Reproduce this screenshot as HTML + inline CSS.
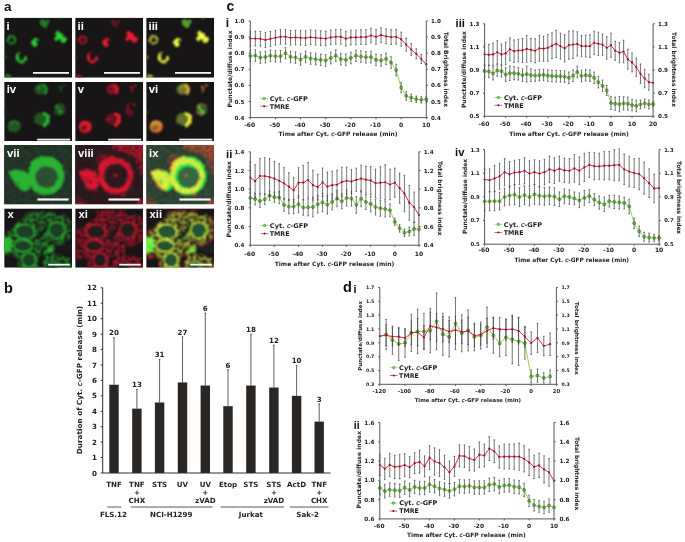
<!DOCTYPE html>
<html lang="en"><head><meta charset="utf-8"><title>Figure</title>
<style>html,body{margin:0;padding:0;background:#fff}body{width:685px;height:542px;overflow:hidden}svg{display:block}</style></head><body>
<svg width="685" height="542" viewBox="0 0 685 542">
<rect width="685" height="542" fill="#fff"/>
<defs>
<clipPath id="pc0"><rect x="0" y="0" width="67.8" height="60.0"/></clipPath>
<clipPath id="pc1"><rect x="0" y="0" width="67.8" height="59.1"/></clipPath>
<clipPath id="pc2"><rect x="0" y="0" width="67.8" height="59.3"/></clipPath>
<clipPath id="pc3"><rect x="0" y="0" width="67.8" height="59.3"/></clipPath>
<filter id="bl" x="-10%" y="-10%" width="120%" height="120%"><feTurbulence type="fractalNoise" baseFrequency="0.28" numOctaves="2" seed="7" result="n"/><feDisplacementMap in="SourceGraphic" in2="n" scale="3" xChannelSelector="R" yChannelSelector="G"/><feGaussianBlur stdDeviation="1"/></filter>
<filter id="bl4" x="-10%" y="-10%" width="120%" height="120%"><feTurbulence type="fractalNoise" baseFrequency="0.45" numOctaves="2" seed="3" result="n"/><feDisplacementMap in="SourceGraphic" in2="n" scale="3" xChannelSelector="R" yChannelSelector="G"/><feGaussianBlur stdDeviation="0.85"/></filter>
<filter id="mot2" x="0" y="0" width="100%" height="100%"><feTurbulence type="fractalNoise" baseFrequency="0.38" numOctaves="2" seed="23" result="n"/><feColorMatrix in="n" type="matrix" values="0 0 0 0 0 0 0 0 0 0 0 0 0 0 0 5 0 0 0 -1.95" result="a"/><feComposite in="SourceGraphic" in2="a" operator="in"/></filter>
<filter id="mot3" x="-5%" y="-5%" width="110%" height="110%"><feTurbulence type="fractalNoise" baseFrequency="0.45" numOctaves="2" seed="31" result="n"/><feColorMatrix in="n" type="matrix" values="0 0 0 0 0 0 0 0 0 0 0 0 0 0 0 3.0 0 0 0 -0.45" result="a"/><feComposite in="SourceGraphic" in2="a" operator="in"/></filter>
<filter id="mot" x="0" y="0" width="100%" height="100%"><feTurbulence type="fractalNoise" baseFrequency="0.45" numOctaves="2" seed="11" result="n"/><feColorMatrix in="n" type="matrix" values="0 0 0 0 0 0 0 0 0 0 0 0 0 0 0 2.2 0 0 0 -0.55" result="a"/><feComposite in="SourceGraphic" in2="a" operator="in"/></filter>
<g id="m0g" filter="url(#bl)"><circle cx="7.4" cy="22.2" r="3.6" fill="none" stroke="#279a2c" stroke-width="2.1" opacity="1"/><path d="M13.6 36.6 C11.5 40 13.5 44.2 17.5 44.2 C20.5 44.2 21.8 41.8 21.2 39.4" fill="none" stroke="#2cd034" stroke-width="2.5" stroke-linecap="round" stroke-linejoin="round" opacity="1"/><path d="M13.6 36.6 L16.5 34.6" fill="none" stroke="#247f29" stroke-width="1.2" stroke-linecap="round" stroke-linejoin="round" opacity="1"/><path d="M28 22 L31.5 19.5 L33 22 L31.5 24 L33.5 26 L32 29.5 L29 28.5 L27.2 25 Z" fill="#2cd034" opacity="1"/><path d="M33 20.5 L34.5 23.5" fill="none" stroke="#279a2c" stroke-width="1.2" stroke-linecap="round" stroke-linejoin="round" opacity="1"/><path d="M35.5 3.5 L38.5 0.8 L41 3 L44 1 L45 5 L42.8 6.8 L43.5 10 L39.5 10 L38 7.5 L35.8 6.5 Z" fill="#247928" opacity="1"/><path d="M51 14 L54 12.8 L55.8 15.6 L58.5 15 L59 18.6 L62 19.8 L61.4 24.6 L57.5 25.2 L55.5 22.6 L51.8 23.8 L49.8 20.8 L52.2 18 Z" fill="#2cd034" opacity="1"/><ellipse cx="0.8" cy="39.5" rx="1.2" ry="2.4" fill="#226425" opacity="1"/><ellipse cx="4" cy="58.6" rx="3" ry="1.6" fill="#279a2c" opacity="1"/><ellipse cx="56.8" cy="-0.2" rx="2.5" ry="1" fill="#247628" opacity="1"/></g>
<g id="m0r" filter="url(#bl)"><circle cx="7.4" cy="22.2" r="3.6" fill="none" stroke="#b8172c" stroke-width="2.1" opacity="1"/><ellipse cx="7.4" cy="22.6" rx="1.6" ry="1.6" fill="#171515" opacity="1"/><path d="M13.6 36.6 C11.5 40 13.5 44.2 17.5 44.2 C20.5 44.2 21.8 41.8 21.2 39.4" fill="none" stroke="#ec1a32" stroke-width="2.5" stroke-linecap="round" stroke-linejoin="round" opacity="1"/><path d="M13.6 36.6 L16.5 34.6" fill="none" stroke="#8e1528" stroke-width="1.2" stroke-linecap="round" stroke-linejoin="round" opacity="1"/><path d="M28 22 L31.5 19.5 L33 22 L31.5 24 L33.5 26 L32 29.5 L29 28.5 L27.2 25 Z" fill="#ec1a32" opacity="1"/><path d="M33 20.5 L34.5 23.5" fill="none" stroke="#ad162b" stroke-width="1.2" stroke-linecap="round" stroke-linejoin="round" opacity="1"/><path d="M35.5 3.5 L38.5 0.8 L41 3 L44 1 L45 5 L42.8 6.8 L43.5 10 L39.5 10 L38 7.5 L35.8 6.5 Z" fill="#501221" opacity="1"/><path d="M51 14 L54 12.8 L55.8 15.6 L58.5 15 L59 18.6 L62 19.8 L61.4 24.6 L57.5 25.2 L55.5 22.6 L51.8 23.8 L49.8 20.8 L52.2 18 Z" fill="#ec1a32" opacity="1"/><ellipse cx="0.8" cy="39.5" rx="1.2" ry="2.4" fill="#6f1324" opacity="1"/><ellipse cx="4" cy="58.6" rx="3" ry="1.6" fill="#ad162b" opacity="1"/><ellipse cx="56.8" cy="-0.2" rx="2.5" ry="1" fill="#841427" opacity="1"/></g>
<g id="m1g" filter="url(#bl)"><ellipse cx="36.2" cy="7.2" rx="6" ry="5.6" fill="#205223" opacity="1"/><path d="M39 3 C43 4 43.5 9 40.5 11.5" fill="none" stroke="#26922b" stroke-width="2.4" stroke-linecap="round" stroke-linejoin="round" opacity="1"/><ellipse cx="35" cy="6" rx="2.2" ry="2.6" fill="#247f29" opacity="1"/><path d="M55 3.5 L57 7 L60.5 3 M57 7 L55.5 11" fill="none" stroke="#215c24" stroke-width="1.3" stroke-linecap="round" stroke-linejoin="round" opacity="1"/><ellipse cx="55.6" cy="27.5" rx="5.6" ry="6.2" fill="#204a22" transform="rotate(-20 55.6 27.5)" opacity="1"/><path d="M52 24 L57.5 31.5" fill="none" stroke="#279a2c" stroke-width="1.8" stroke-linecap="round" stroke-linejoin="round" opacity="1"/><ellipse cx="36.8" cy="37.2" rx="7" ry="6.6" fill="#205223" opacity="1"/><path d="M40 31.5 C45 33 45 41 40.5 43" fill="none" stroke="#2aba31" stroke-width="3.2" stroke-linecap="round" stroke-linejoin="round" opacity="1"/><ellipse cx="9.8" cy="44.6" rx="6.6" ry="6.2" fill="#215723" opacity="1"/><path d="M5.5 41.5 C8 38.5 13 39 14.5 42" fill="none" stroke="#247f29" stroke-width="2" stroke-linecap="round" stroke-linejoin="round" opacity="1"/><ellipse cx="0.5" cy="30" rx="1" ry="2" fill="#205223" opacity="1"/></g>
<g id="m1r" filter="url(#bl)"><ellipse cx="36.6" cy="7.2" rx="5.6" ry="5.4" fill="#841427" opacity="1"/><path d="M39.5 3.2 C43 4.5 43.2 9 40.5 11.2" fill="none" stroke="#e11930" stroke-width="2.6" stroke-linecap="round" stroke-linejoin="round" opacity="1"/><ellipse cx="35.6" cy="7.5" rx="1.8" ry="2" fill="#171515" opacity="0.6"/><path d="M55 3.5 L57 7 L60.5 3 M57 7 L55.5 11" fill="none" stroke="#b8172c" stroke-width="1.3" stroke-linecap="round" stroke-linejoin="round" opacity="1"/><path d="M51.5 25 C53 21 58 21.5 59.5 24 M52 24.5 L57 31.5 M51.5 27 C51.5 31 54 33 57 32.5" fill="none" stroke="#9c1629" stroke-width="1.5" stroke-linecap="round" stroke-linejoin="round" opacity="1"/><ellipse cx="36.8" cy="37.2" rx="6.6" ry="6.2" fill="#5a1222" opacity="1"/><path d="M40.5 31.8 C45 33.5 45 40.5 40.8 42.8" fill="none" stroke="#ec1a32" stroke-width="3.4" stroke-linecap="round" stroke-linejoin="round" opacity="1"/><path d="M31 38 C33 36 36 36.5 37 38.5" fill="none" stroke="#8e1528" stroke-width="1.4" stroke-linecap="round" stroke-linejoin="round" opacity="1"/><ellipse cx="10" cy="44.8" rx="6.6" ry="6.4" fill="#db1930" opacity="1"/><ellipse cx="9" cy="46" rx="2.8" ry="2.3" fill="#171515" opacity="0.75"/><ellipse cx="0.4" cy="39" rx="1" ry="2.4" fill="#6f1324" opacity="1"/></g>
<g id="m2g" filter="url(#bl4)"><rect x="-2" y="-2" width="72" height="64" fill="#1b211d"/><rect x="-2" y="-2" width="72" height="64" fill="#2a4230" filter="url(#mot)"/><path d="M5 27 L11 25 L20.6 26.6 L25.5 31 L27 40 L23.6 45 L20 46.2 L15.8 43.8 L11 37.8 L7.4 33 Z" fill="#29b330" opacity="1"/><path fill-rule="evenodd" d="M24.8 31.8 C24.6 25 25.8 20.5 27.8 17.4 C30.5 13.8 34 12.2 37.4 12 C42 11.6 47 12 50.6 13.8 C55.5 16.5 59 22 59.6 28.2 C60 31 59.8 34 59 36.6 C57.8 41 55.5 44 51.8 46.2 C49 48.4 45.6 49.6 42.2 49.8 C38.8 50 35.4 49 32.6 47.4 C29.8 45.8 27.8 43.4 26.6 40.2 C25.6 37.6 25 34.8 24.8 31.8 Z M31.4 32.6 C31.4 38.6 36.2 42.8 42.2 42.8 C48.4 42.8 53.2 38.2 53.2 32 C53.2 26 48.4 21.4 42.2 21.4 C36.2 21.4 31.4 26.4 31.4 32.6 Z" fill="#29b330"/><ellipse cx="42.3" cy="32.1" rx="10.9" ry="10.7" fill="#2a4f31" opacity="1"/><ellipse cx="14.5" cy="37" rx="1.3" ry="1.6" fill="#1f6a2c" opacity="0.8"/></g>
<g id="m2r" filter="url(#bl4)"><rect x="-2" y="-2" width="72" height="64" fill="#241a1c"/><rect x="-2" y="-2" width="72" height="64" fill="#321a20" filter="url(#mot)"/><g filter="url(#mot2)"><path d="M36 -2 L70 -2 L70 24 L64 18 L58 10 L47 6 L38 5 Z" fill="#cc182e" opacity="1"/><path d="M60 14 L70 12 L70 30 L65 26 Z" fill="#ad162b" opacity="1"/><path d="M-2 50 L6 54 L16 62 L-2 62 Z" fill="#981529" opacity="1"/><path d="M56 62 L70 52 L70 62 Z" fill="#c2172d" opacity="1"/><path d="M20 14 L28 8 L34 9 L30 14 L24 18 Z" fill="#791425" opacity="1"/></g><g filter="url(#mot3)"><path d="M4.5 27.5 L11 24.8 L19.5 26.5 L23.5 31.5 L24.5 38 L20.5 44 L15 45 L10.5 41 L7.5 34.5 Z" fill="#e11930" opacity="1"/><ellipse cx="40.6" cy="31" rx="14.6" ry="15.4" fill="none" stroke="#e71931" stroke-width="4.6"/><path d="M25 24 C26 17 32 13 38 13" fill="none" stroke="#e71931" stroke-width="3" stroke-linecap="round" stroke-linejoin="round" opacity="1"/></g><ellipse cx="15.5" cy="36" rx="1.5" ry="2.1" fill="#171515" opacity="0.6"/><ellipse cx="40" cy="30.5" rx="1.7" ry="1.7" fill="#a3162a" opacity="1"/><ellipse cx="47.5" cy="49.8" rx="2" ry="1" fill="#c2172d" opacity="1"/></g>
<g id="m3g" filter="url(#bl4)"><g filter="url(#mot2)"><path d="M20 4 L50 2.5 L52 8 L60 6 L67 12 L66 30 L58 36 L50 37 L49 44 L40 47 L34 48 L34 62 L14 62 L13 49 L-2 46 L-2 28 L8 20 L12 14 L18 12 Z" fill="#25882a" opacity="1"/><path d="M40 48 L52 44 L64 50 L70 56 L70 62 L38 62 Z" fill="#25882a" opacity="1"/></g><path d="M-2 29 L6 28 L8.5 34 L7.5 43 L-2 45 Z" fill="#29b530" opacity="1"/><path d="M30 30 L36 24 L44 15 L46 17 L40 27 L34 33 Z" fill="#171515" opacity="0.9"/><path d="M50 38 L60 37 L70 33 L70 46 L56 44 Z" fill="#171515" opacity="0.85"/><path d="M44 38 L50 40 L47 45 L42 43 Z" fill="#28ac2f" opacity="1"/><ellipse cx="20.6" cy="23.4" rx="10.0" ry="7.6" fill="#1d3f26" stroke="#2bcc33" stroke-width="1.1" stroke-opacity="1.0" transform="rotate(8 20.6 23.4)"/><ellipse cx="52.6" cy="22.1" rx="8.4" ry="8.2" fill="#1d3f26" stroke="#2bcc33" stroke-width="1.1" stroke-opacity="0.9" transform="rotate(0 52.6 22.1)"/><ellipse cx="18.8" cy="37.4" rx="9.2" ry="6.1" fill="#1d3f26" stroke="#2bcc33" stroke-width="1.1" stroke-opacity="0.9" transform="rotate(0 18.8 37.4)"/><ellipse cx="24.8" cy="51.8" rx="7.2" ry="7.5" fill="#1d3f26" stroke="#2bcc33" stroke-width="1.1" stroke-opacity="1.0" transform="rotate(0 24.8 51.8)"/><ellipse cx="47.5" cy="57.5" rx="7.5" ry="4.6" fill="#1d3f26" stroke="#2bcc33" stroke-width="1.1" stroke-opacity="0.6" transform="rotate(0 47.5 57.5)"/></g>
<g id="m3r" filter="url(#bl4)"><g filter="url(#mot2)"><path d="M22 2 L50 1 L52 8 L60 6 L70 10 L70 32 L58 37 L50 38 L49 45 L40 48 L34 49 L34 62 L12 62 L12 50 L-2 50 L-2 22 L8 19 L12 14 L18 10 Z" fill="#a5162a" opacity="1"/><path d="M38 50 L52 45 L64 50 L70 54 L70 62 L36 62 Z" fill="#ad162b" opacity="1"/></g><path d="M30 30 L36 24 L44 13 L47 15 L41 27 L35 34 Z" fill="#171515" opacity="0.9"/><path d="M52 39 L60 38 L70 36 L70 47 L56 45 Z" fill="#171515" opacity="0.7"/><ellipse cx="20.6" cy="23.4" rx="10.0" ry="7.6" fill="#211a1b" stroke="#e71931" stroke-width="1.1" stroke-opacity="1.0" transform="rotate(8 20.6 23.4)"/><ellipse cx="52.6" cy="22.1" rx="8.4" ry="8.2" fill="#211a1b" stroke="#e71931" stroke-width="1.1" stroke-opacity="0.9" transform="rotate(0 52.6 22.1)"/><ellipse cx="18.8" cy="37.4" rx="9.2" ry="6.1" fill="#211a1b" stroke="#e71931" stroke-width="1.1" stroke-opacity="0.9" transform="rotate(0 18.8 37.4)"/><ellipse cx="24.8" cy="51.8" rx="7.2" ry="7.5" fill="#211a1b" stroke="#e71931" stroke-width="1.1" stroke-opacity="1.0" transform="rotate(0 24.8 51.8)"/><ellipse cx="47.5" cy="57.5" rx="7.5" ry="4.6" fill="#211a1b" stroke="#e71931" stroke-width="1.1" stroke-opacity="0.6" transform="rotate(0 47.5 57.5)"/></g>
</defs>
<g transform="translate(4.2 17.7)" clip-path="url(#pc0)" style="isolation:isolate">
<rect x="0" y="0" width="67.8" height="60.0" fill="#171515"/>
<use href="#m0g"/>
<rect x="28.8" y="54.3" width="36" height="1.8" fill="#f4f4f4"/>
<text x="2.3" y="12.2" font-family="'Liberation Sans',sans-serif" font-weight="bold" font-size="11.3" fill="#fff">i</text>
</g>
<g transform="translate(75.2 17.7)" clip-path="url(#pc0)" style="isolation:isolate">
<rect x="0" y="0" width="67.8" height="60.0" fill="#171515"/>
<use href="#m0r"/>
<rect x="28.8" y="54.3" width="36" height="1.8" fill="#f4f4f4"/>
<text x="2.3" y="12.2" font-family="'Liberation Sans',sans-serif" font-weight="bold" font-size="11.3" fill="#fff">ii</text>
</g>
<g transform="translate(146.2 17.7)" clip-path="url(#pc0)" style="isolation:isolate">
<rect x="0" y="0" width="67.8" height="60.0" fill="#171515"/>
<use href="#m0g" style="filter:brightness(1.32)"/>
<use href="#m0r" style="mix-blend-mode:lighten"/>
<rect x="28.8" y="54.3" width="36" height="1.8" fill="#f4f4f4"/>
<text x="2.3" y="12.2" font-family="'Liberation Sans',sans-serif" font-weight="bold" font-size="11.3" fill="#fff">iii</text>
</g>
<g transform="translate(4.2 82.0)" clip-path="url(#pc1)" style="isolation:isolate">
<rect x="0" y="0" width="67.8" height="59.1" fill="#171515"/>
<use href="#m1g"/>
<rect x="33.0" y="56.7" width="33" height="1.8" fill="#f4f4f4"/>
<text x="2.5" y="11.2" font-family="'Liberation Sans',sans-serif" font-weight="bold" font-size="11.3" fill="#fff">iv</text>
</g>
<g transform="translate(75.2 82.0)" clip-path="url(#pc1)" style="isolation:isolate">
<rect x="0" y="0" width="67.8" height="59.1" fill="#171515"/>
<use href="#m1r"/>
<rect x="33.0" y="56.7" width="33" height="1.8" fill="#f4f4f4"/>
<text x="2.5" y="11.2" font-family="'Liberation Sans',sans-serif" font-weight="bold" font-size="11.3" fill="#fff">v</text>
</g>
<g transform="translate(146.2 82.0)" clip-path="url(#pc1)" style="isolation:isolate">
<rect x="0" y="0" width="67.8" height="59.1" fill="#171515"/>
<use href="#m1g" style="filter:brightness(1.32)"/>
<use href="#m1r" style="mix-blend-mode:lighten"/>
<rect x="33.0" y="56.7" width="33" height="1.8" fill="#f4f4f4"/>
<text x="2.5" y="11.2" font-family="'Liberation Sans',sans-serif" font-weight="bold" font-size="11.3" fill="#fff">vi</text>
</g>
<g transform="translate(4.2 145.0)" clip-path="url(#pc2)" style="isolation:isolate">
<rect x="0" y="0" width="67.8" height="59.3" fill="#171515"/>
<use href="#m2g"/>
<rect x="33.2" y="53.4" width="31.2" height="2.2" fill="#f4f4f4"/>
<text x="2.8" y="11.5" font-family="'Liberation Sans',sans-serif" font-weight="bold" font-size="11.3" fill="#fff">vii</text>
</g>
<g transform="translate(75.2 145.0)" clip-path="url(#pc2)" style="isolation:isolate">
<rect x="0" y="0" width="67.8" height="59.3" fill="#171515"/>
<use href="#m2r"/>
<rect x="33.2" y="53.4" width="31.2" height="2.2" fill="#f4f4f4"/>
<text x="2.8" y="11.5" font-family="'Liberation Sans',sans-serif" font-weight="bold" font-size="11.3" fill="#fff">viii</text>
</g>
<g transform="translate(146.2 145.0)" clip-path="url(#pc2)" style="isolation:isolate">
<rect x="0" y="0" width="67.8" height="59.3" fill="#171515"/>
<use href="#m2g" style="filter:brightness(1.32)"/>
<use href="#m2r" style="mix-blend-mode:lighten"/>
<rect x="33.2" y="53.4" width="31.2" height="2.2" fill="#f4f4f4"/>
<text x="2.8" y="11.5" font-family="'Liberation Sans',sans-serif" font-weight="bold" font-size="11.3" fill="#fff">ix</text>
</g>
<g transform="translate(4.2 208.4)" clip-path="url(#pc3)" style="isolation:isolate">
<rect x="0" y="0" width="67.8" height="59.3" fill="#171515"/>
<use href="#m3g"/>
<rect x="44.0" y="55.4" width="21.6" height="1.8" fill="#f4f4f4"/>
<text x="3.3" y="9.5" font-family="'Liberation Sans',sans-serif" font-weight="bold" font-size="11.3" fill="#fff">x</text>
</g>
<g transform="translate(75.2 208.4)" clip-path="url(#pc3)" style="isolation:isolate">
<rect x="0" y="0" width="67.8" height="59.3" fill="#171515"/>
<use href="#m3r"/>
<rect x="44.0" y="55.4" width="21.6" height="1.8" fill="#f4f4f4"/>
<text x="3.3" y="9.5" font-family="'Liberation Sans',sans-serif" font-weight="bold" font-size="11.3" fill="#fff">xi</text>
</g>
<g transform="translate(146.2 208.4)" clip-path="url(#pc3)" style="isolation:isolate">
<rect x="0" y="0" width="67.8" height="59.3" fill="#171515"/>
<use href="#m3g" style="filter:brightness(1.32)"/>
<use href="#m3r" style="mix-blend-mode:lighten"/>
<rect x="44.0" y="55.4" width="21.6" height="1.8" fill="#f4f4f4"/>
<text x="3.3" y="9.5" font-family="'Liberation Sans',sans-serif" font-weight="bold" font-size="11.3" fill="#fff">xii</text>
</g>
<path d="M114 384.74V337.68M113.2 337.68h1.6M136.9 408.66V389.37M136.1 389.37h1.6M159.6 402.48V359.28M158.8 359.28h1.6M182.5 382.43V336.75M181.7 336.75h1.6M205.3 385.51V313.15M204.5 313.15h1.6M228 406.19V369.77M227.2 369.77h1.6M250.9 385.51V334.13M250.1 334.13h1.6M273.9 387.52V345.24M273.1 345.24h1.6M296.6 395.85V365.3M295.8 365.3h1.6M319.2 421.62V403.87M318.4 403.87h1.6" stroke="#2b2b2b" stroke-width="0.75" fill="none"/>
<rect x="109.3" y="384.74" width="9.4" height="88.26" fill="#2a2624"/>
<rect x="132.2" y="408.66" width="9.4" height="64.34" fill="#2a2624"/>
<rect x="154.9" y="402.48" width="9.4" height="70.52" fill="#2a2624"/>
<rect x="177.8" y="382.43" width="9.4" height="90.57" fill="#2a2624"/>
<rect x="200.6" y="385.51" width="9.4" height="87.49" fill="#2a2624"/>
<rect x="223.3" y="406.19" width="9.4" height="66.81" fill="#2a2624"/>
<rect x="246.2" y="385.51" width="9.4" height="87.49" fill="#2a2624"/>
<rect x="269.2" y="387.52" width="9.4" height="85.48" fill="#2a2624"/>
<rect x="291.9" y="395.85" width="9.4" height="77.15" fill="#2a2624"/>
<rect x="314.5" y="421.62" width="9.4" height="51.38" fill="#2a2624"/>
<path d="M102.7 287.84V473H330.5M102.7 473h-2M102.7 457.57h-2M102.7 442.14h-2M102.7 426.71h-2M102.7 411.28h-2M102.7 395.85h-2M102.7 380.42h-2M102.7 364.99h-2M102.7 349.56h-2M102.7 334.13h-2M102.7 318.7h-2M102.7 303.27h-2M102.7 287.84h-2" stroke="#2e2e2e" stroke-width="1" fill="none"/>
<g font-family="'DejaVu Sans','Liberation Sans',sans-serif" font-weight="bold" font-size="7.1" fill="#222">
<text x="96.9" y="475.56" text-anchor="end">0</text>
<text x="96.9" y="460.13" text-anchor="end">1</text>
<text x="96.9" y="444.7" text-anchor="end">2</text>
<text x="96.9" y="429.27" text-anchor="end">3</text>
<text x="96.9" y="413.84" text-anchor="end">4</text>
<text x="96.9" y="398.41" text-anchor="end">5</text>
<text x="96.9" y="382.98" text-anchor="end">6</text>
<text x="96.9" y="367.55" text-anchor="end">7</text>
<text x="96.9" y="352.12" text-anchor="end">8</text>
<text x="96.9" y="336.69" text-anchor="end">9</text>
<text x="96.9" y="321.26" text-anchor="end">10</text>
<text x="96.9" y="305.83" text-anchor="end">11</text>
<text x="96.9" y="290.4" text-anchor="end">12</text>
<text x="114" y="335.48" text-anchor="middle">20</text>
<text x="136.9" y="387.17" text-anchor="middle">13</text>
<text x="159.6" y="357.08" text-anchor="middle">31</text>
<text x="182.5" y="334.55" text-anchor="middle">27</text>
<text x="205.3" y="310.95" text-anchor="middle">6</text>
<text x="228" y="367.57" text-anchor="middle">6</text>
<text x="250.9" y="331.93" text-anchor="middle">18</text>
<text x="273.9" y="343.04" text-anchor="middle">12</text>
<text x="296.6" y="363.1" text-anchor="middle">10</text>
<text x="319.2" y="401.67" text-anchor="middle">3</text>
<text x="114" y="486.96" text-anchor="middle">TNF</text>
<text x="136.9" y="486.96" text-anchor="middle">TNF</text>
<text x="136.9" y="494.76" text-anchor="middle">+</text>
<text x="136.9" y="503.26" text-anchor="middle">CHX</text>
<text x="159.6" y="486.96" text-anchor="middle">STS</text>
<text x="182.5" y="486.96" text-anchor="middle">UV</text>
<text x="205.3" y="486.96" text-anchor="middle">UV</text>
<text x="205.3" y="494.76" text-anchor="middle">+</text>
<text x="205.3" y="503.26" text-anchor="middle">zVAD</text>
<text x="228" y="486.96" text-anchor="middle">Etop</text>
<text x="250.9" y="486.96" text-anchor="middle">STS</text>
<text x="273.9" y="486.96" text-anchor="middle">STS</text>
<text x="273.9" y="494.76" text-anchor="middle">+</text>
<text x="273.9" y="503.26" text-anchor="middle">zVAD</text>
<text x="296.6" y="486.96" text-anchor="middle">ActD</text>
<text x="319.2" y="486.96" text-anchor="middle">TNF</text>
<text x="319.2" y="494.76" text-anchor="middle">+</text>
<text x="319.2" y="503.26" text-anchor="middle">CHX</text>
<text x="113.4" y="516.96" text-anchor="middle">FLS.12</text>
<text x="171.2" y="516.96" text-anchor="middle">NCI-H1299</text>
<text x="250.8" y="516.96" text-anchor="middle">Jurkat</text>
<text x="307.6" y="516.96" text-anchor="middle">Sak-2</text>
<text transform="translate(81.76 454.3) rotate(-90)" textLength="148.5" lengthAdjust="spacingAndGlyphs">Duration of Cyt. <tspan font-style="italic" font-weight="normal" stroke="#222" stroke-width="0.22">c</tspan>-GFP release (min)</text>
</g>
<path d="M107.3 507h14M130.9 507h81.6M220.7 507h63.2M289.9 507h38.6" stroke="#3a3a3a" stroke-width="0.85" fill="none"/>
<g>
<polyline points="250.3,56.1 255.33,55.61 260.36,57.55 265.39,57.06 270.41,55.78 275.44,56.26 280.47,56.26 285.5,53.2 290.53,56.9 295.56,57.55 300.59,59.48 305.61,56.9 310.64,58.51 315.67,59.16 320.7,59.8 325.73,60.45 330.76,58.03 335.79,55.61 340.81,59.16 345.84,59.8 350.87,58.03 355.9,55.78 360.93,56.58 365.96,57.22 370.99,57.06 376.01,59.8 381.04,60.45 386.07,58.83 391.1,62.54 396.13,70.11 401.16,87.65 406.19,95.86 411.21,97.8 416.24,99.25 421.27,99.89 426.3,99.25" fill="none" stroke="#8fd455" stroke-width="1"/>
<circle cx="250.3" cy="56.1" r="1.45" fill="#93d35f" stroke="#4e9a2e" stroke-width="0.9"/>
<circle cx="255.33" cy="55.61" r="1.45" fill="#93d35f" stroke="#4e9a2e" stroke-width="0.9"/>
<circle cx="260.36" cy="57.55" r="1.45" fill="#93d35f" stroke="#4e9a2e" stroke-width="0.9"/>
<circle cx="265.39" cy="57.06" r="1.45" fill="#93d35f" stroke="#4e9a2e" stroke-width="0.9"/>
<circle cx="270.41" cy="55.78" r="1.45" fill="#93d35f" stroke="#4e9a2e" stroke-width="0.9"/>
<circle cx="275.44" cy="56.26" r="1.45" fill="#93d35f" stroke="#4e9a2e" stroke-width="0.9"/>
<circle cx="280.47" cy="56.26" r="1.45" fill="#93d35f" stroke="#4e9a2e" stroke-width="0.9"/>
<circle cx="285.5" cy="53.2" r="1.45" fill="#93d35f" stroke="#4e9a2e" stroke-width="0.9"/>
<circle cx="290.53" cy="56.9" r="1.45" fill="#93d35f" stroke="#4e9a2e" stroke-width="0.9"/>
<circle cx="295.56" cy="57.55" r="1.45" fill="#93d35f" stroke="#4e9a2e" stroke-width="0.9"/>
<circle cx="300.59" cy="59.48" r="1.45" fill="#93d35f" stroke="#4e9a2e" stroke-width="0.9"/>
<circle cx="305.61" cy="56.9" r="1.45" fill="#93d35f" stroke="#4e9a2e" stroke-width="0.9"/>
<circle cx="310.64" cy="58.51" r="1.45" fill="#93d35f" stroke="#4e9a2e" stroke-width="0.9"/>
<circle cx="315.67" cy="59.16" r="1.45" fill="#93d35f" stroke="#4e9a2e" stroke-width="0.9"/>
<circle cx="320.7" cy="59.8" r="1.45" fill="#93d35f" stroke="#4e9a2e" stroke-width="0.9"/>
<circle cx="325.73" cy="60.45" r="1.45" fill="#93d35f" stroke="#4e9a2e" stroke-width="0.9"/>
<circle cx="330.76" cy="58.03" r="1.45" fill="#93d35f" stroke="#4e9a2e" stroke-width="0.9"/>
<circle cx="335.79" cy="55.61" r="1.45" fill="#93d35f" stroke="#4e9a2e" stroke-width="0.9"/>
<circle cx="340.81" cy="59.16" r="1.45" fill="#93d35f" stroke="#4e9a2e" stroke-width="0.9"/>
<circle cx="345.84" cy="59.8" r="1.45" fill="#93d35f" stroke="#4e9a2e" stroke-width="0.9"/>
<circle cx="350.87" cy="58.03" r="1.45" fill="#93d35f" stroke="#4e9a2e" stroke-width="0.9"/>
<circle cx="355.9" cy="55.78" r="1.45" fill="#93d35f" stroke="#4e9a2e" stroke-width="0.9"/>
<circle cx="360.93" cy="56.58" r="1.45" fill="#93d35f" stroke="#4e9a2e" stroke-width="0.9"/>
<circle cx="365.96" cy="57.22" r="1.45" fill="#93d35f" stroke="#4e9a2e" stroke-width="0.9"/>
<circle cx="370.99" cy="57.06" r="1.45" fill="#93d35f" stroke="#4e9a2e" stroke-width="0.9"/>
<circle cx="376.01" cy="59.8" r="1.45" fill="#93d35f" stroke="#4e9a2e" stroke-width="0.9"/>
<circle cx="381.04" cy="60.45" r="1.45" fill="#93d35f" stroke="#4e9a2e" stroke-width="0.9"/>
<circle cx="386.07" cy="58.83" r="1.45" fill="#93d35f" stroke="#4e9a2e" stroke-width="0.9"/>
<circle cx="391.1" cy="62.54" r="1.45" fill="#93d35f" stroke="#4e9a2e" stroke-width="0.9"/>
<circle cx="396.13" cy="70.11" r="1.45" fill="#93d35f" stroke="#4e9a2e" stroke-width="0.9"/>
<circle cx="401.16" cy="87.65" r="1.45" fill="#93d35f" stroke="#4e9a2e" stroke-width="0.9"/>
<circle cx="406.19" cy="95.86" r="1.45" fill="#93d35f" stroke="#4e9a2e" stroke-width="0.9"/>
<circle cx="411.21" cy="97.8" r="1.45" fill="#93d35f" stroke="#4e9a2e" stroke-width="0.9"/>
<circle cx="416.24" cy="99.25" r="1.45" fill="#93d35f" stroke="#4e9a2e" stroke-width="0.9"/>
<circle cx="421.27" cy="99.89" r="1.45" fill="#93d35f" stroke="#4e9a2e" stroke-width="0.9"/>
<circle cx="426.3" cy="99.25" r="1.45" fill="#93d35f" stroke="#4e9a2e" stroke-width="0.9"/>
<path d="M250.3 50.3V61.89M249.5 50.3h1.6M249.5 61.89h1.6M255.33 49.82V61.41M254.53 49.82h1.6M254.53 61.41h1.6M260.36 51.75V63.34M259.56 51.75h1.6M259.56 63.34h1.6M265.39 51.27V62.86M264.59 51.27h1.6M264.59 62.86h1.6M270.41 49.98V61.57M269.61 49.98h1.6M269.61 61.57h1.6M275.44 50.46V62.05M274.64 50.46h1.6M274.64 62.05h1.6M280.47 50.46V62.05M279.67 50.46h1.6M279.67 62.05h1.6M285.5 47.4V59M284.7 47.4h1.6M284.7 59h1.6M290.53 51.11V62.7M289.73 51.11h1.6M289.73 62.7h1.6M295.56 51.75V63.34M294.76 51.75h1.6M294.76 63.34h1.6M300.59 53.68V65.28M299.79 53.68h1.6M299.79 65.28h1.6M305.61 51.11V62.7M304.81 51.11h1.6M304.81 62.7h1.6M310.64 52.72V64.31M309.84 52.72h1.6M309.84 64.31h1.6M315.67 53.36V64.95M314.87 53.36h1.6M314.87 64.95h1.6M320.7 54V65.6M319.9 54h1.6M319.9 65.6h1.6M325.73 54.65V66.24M324.93 54.65h1.6M324.93 66.24h1.6M330.76 52.23V63.83M329.96 52.23h1.6M329.96 63.83h1.6M335.79 49.82V61.41M334.99 49.82h1.6M334.99 61.41h1.6M340.81 53.36V64.95M340.01 53.36h1.6M340.01 64.95h1.6M345.84 54V65.6M345.04 54h1.6M345.04 65.6h1.6M350.87 52.23V63.83M350.07 52.23h1.6M350.07 63.83h1.6M355.9 49.98V61.57M355.1 49.98h1.6M355.1 61.57h1.6M360.93 50.78V62.38M360.13 50.78h1.6M360.13 62.38h1.6M365.96 51.43V63.02M365.16 51.43h1.6M365.16 63.02h1.6M370.99 51.27V62.86M370.19 51.27h1.6M370.19 62.86h1.6M376.01 54V65.6M375.21 54h1.6M375.21 65.6h1.6M381.04 54.65V66.24M380.24 54.65h1.6M380.24 66.24h1.6M386.07 53.04V64.63M385.27 53.04h1.6M385.27 64.63h1.6M391.1 56.74V68.33M390.3 56.74h1.6M390.3 68.33h1.6M396.13 64.31V75.9M395.33 64.31h1.6M395.33 75.9h1.6M401.16 82.5V92.81M400.36 82.5h1.6M400.36 92.81h1.6M406.19 91.52V100.21M405.39 91.52h1.6M405.39 100.21h1.6M411.21 94.09V101.5M410.41 94.09h1.6M410.41 101.5h1.6M416.24 96.03V102.47M415.44 96.03h1.6M415.44 102.47h1.6M421.27 96.67V103.11M420.47 96.67h1.6M420.47 103.11h1.6M426.3 96.35V102.14M425.5 96.35h1.6M425.5 102.14h1.6M250.3 31.3V46.12M249.5 31.3h1.6M249.5 46.12h1.6M255.33 31.14V45.96M254.53 31.14h1.6M254.53 45.96h1.6M260.36 31.46V46.28M259.56 31.46h1.6M259.56 46.28h1.6M265.39 32.59V47.4M264.59 32.59h1.6M264.59 47.4h1.6M270.41 31.46V46.28M269.61 31.46h1.6M269.61 46.28h1.6M275.44 30.34V45.15M274.64 30.34h1.6M274.64 45.15h1.6M280.47 29.37V44.18M279.67 29.37h1.6M279.67 44.18h1.6M285.5 29.37V44.18M284.7 29.37h1.6M284.7 44.18h1.6M290.53 30.34V45.15M289.73 30.34h1.6M289.73 45.15h1.6M295.56 30.02V44.83M294.76 30.02h1.6M294.76 44.83h1.6M300.59 30.34V45.15M299.79 30.34h1.6M299.79 45.15h1.6M305.61 30.66V45.47M304.81 30.66h1.6M304.81 45.47h1.6M310.64 29.85V44.67M309.84 29.85h1.6M309.84 44.67h1.6M315.67 30.34V45.15M314.87 30.34h1.6M314.87 45.15h1.6M320.7 30.82V45.63M319.9 30.82h1.6M319.9 45.63h1.6M325.73 31.14V45.96M324.93 31.14h1.6M324.93 45.96h1.6M330.76 30.02V44.83M329.96 30.02h1.6M329.96 44.83h1.6M335.79 29.37V44.18M334.99 29.37h1.6M334.99 44.18h1.6M340.81 29.37V44.18M340.01 29.37h1.6M340.01 44.18h1.6M345.84 31.3V46.12M345.04 31.3h1.6M345.04 46.12h1.6M350.87 30.02V44.83M350.07 30.02h1.6M350.07 44.83h1.6M355.9 30.02V44.83M355.1 30.02h1.6M355.1 44.83h1.6M360.93 29.69V44.51M360.13 29.69h1.6M360.13 44.51h1.6M365.96 29.69V44.51M365.16 29.69h1.6M365.16 44.51h1.6M370.99 28.08V42.9M370.19 28.08h1.6M370.19 42.9h1.6M376.01 29.37V44.18M375.21 29.37h1.6M375.21 44.18h1.6M381.04 27.76V42.57M380.24 27.76h1.6M380.24 42.57h1.6M386.07 28.89V43.7M385.27 28.89h1.6M385.27 43.7h1.6M391.1 29.69V44.51M390.3 29.69h1.6M390.3 44.51h1.6M396.13 29.37V44.18M395.33 29.37h1.6M395.33 44.18h1.6M401.16 32.11V46.28M400.36 32.11h1.6M400.36 46.28h1.6M406.19 38.23V51.11M405.39 38.23h1.6M405.39 51.11h1.6M411.21 43.54V55.45M410.41 43.54h1.6M410.41 55.45h1.6M416.24 48.85V58.83M415.44 48.85h1.6M415.44 58.83h1.6M421.27 54.49V63.5M420.47 54.49h1.6M420.47 63.5h1.6" stroke="#3c3c3c" stroke-width="0.8" fill="none" opacity="0.88"/>
<polyline points="250.3,38.71 255.33,38.55 260.36,38.87 265.39,40 270.41,38.87 275.44,37.74 280.47,36.78 285.5,36.78 290.53,37.74 295.56,37.42 300.59,37.74 305.61,38.07 310.64,37.26 315.67,37.74 320.7,38.23 325.73,38.55 330.76,37.42 335.79,36.78 340.81,36.78 345.84,38.71 350.87,37.42 355.9,37.42 360.93,37.1 365.96,37.1 370.99,35.49 376.01,36.78 381.04,35.17 386.07,36.3 391.1,37.1 396.13,36.78 401.16,39.19 406.19,44.67 411.21,49.5 416.24,53.84 421.27,59 426.3,64.47" fill="none" stroke="#cf1f3c" stroke-width="0.95"/>
<circle cx="250.3" cy="38.71" r="1.1" fill="#a30f2a"/>
<circle cx="255.33" cy="38.55" r="1.1" fill="#a30f2a"/>
<circle cx="260.36" cy="38.87" r="1.1" fill="#a30f2a"/>
<circle cx="265.39" cy="40" r="1.1" fill="#a30f2a"/>
<circle cx="270.41" cy="38.87" r="1.1" fill="#a30f2a"/>
<circle cx="275.44" cy="37.74" r="1.1" fill="#a30f2a"/>
<circle cx="280.47" cy="36.78" r="1.1" fill="#a30f2a"/>
<circle cx="285.5" cy="36.78" r="1.1" fill="#a30f2a"/>
<circle cx="290.53" cy="37.74" r="1.1" fill="#a30f2a"/>
<circle cx="295.56" cy="37.42" r="1.1" fill="#a30f2a"/>
<circle cx="300.59" cy="37.74" r="1.1" fill="#a30f2a"/>
<circle cx="305.61" cy="38.07" r="1.1" fill="#a30f2a"/>
<circle cx="310.64" cy="37.26" r="1.1" fill="#a30f2a"/>
<circle cx="315.67" cy="37.74" r="1.1" fill="#a30f2a"/>
<circle cx="320.7" cy="38.23" r="1.1" fill="#a30f2a"/>
<circle cx="325.73" cy="38.55" r="1.1" fill="#a30f2a"/>
<circle cx="330.76" cy="37.42" r="1.1" fill="#a30f2a"/>
<circle cx="335.79" cy="36.78" r="1.1" fill="#a30f2a"/>
<circle cx="340.81" cy="36.78" r="1.1" fill="#a30f2a"/>
<circle cx="345.84" cy="38.71" r="1.1" fill="#a30f2a"/>
<circle cx="350.87" cy="37.42" r="1.1" fill="#a30f2a"/>
<circle cx="355.9" cy="37.42" r="1.1" fill="#a30f2a"/>
<circle cx="360.93" cy="37.1" r="1.1" fill="#a30f2a"/>
<circle cx="365.96" cy="37.1" r="1.1" fill="#a30f2a"/>
<circle cx="370.99" cy="35.49" r="1.1" fill="#a30f2a"/>
<circle cx="376.01" cy="36.78" r="1.1" fill="#a30f2a"/>
<circle cx="381.04" cy="35.17" r="1.1" fill="#a30f2a"/>
<circle cx="386.07" cy="36.3" r="1.1" fill="#a30f2a"/>
<circle cx="391.1" cy="37.1" r="1.1" fill="#a30f2a"/>
<circle cx="396.13" cy="36.78" r="1.1" fill="#a30f2a"/>
<circle cx="401.16" cy="39.19" r="1.1" fill="#a30f2a"/>
<circle cx="406.19" cy="44.67" r="1.1" fill="#a30f2a"/>
<circle cx="411.21" cy="49.5" r="1.1" fill="#a30f2a"/>
<circle cx="416.24" cy="53.84" r="1.1" fill="#a30f2a"/>
<circle cx="421.27" cy="59" r="1.1" fill="#a30f2a"/>
<circle cx="426.3" cy="64.47" r="1.1" fill="#a30f2a"/>
<path d="M250.3 21V117.6H426.3V21M250.3 117.6h-1.6M426.3 117.6h1.6M250.3 101.5h-1.6M426.3 101.5h1.6M250.3 85.4h-1.6M426.3 85.4h1.6M250.3 69.3h-1.6M426.3 69.3h1.6M250.3 53.2h-1.6M426.3 53.2h1.6M250.3 37.1h-1.6M426.3 37.1h1.6M250.3 21h-1.6M426.3 21h1.6M250.3 117.6v1.6M275.44 117.6v1.6M300.59 117.6v1.6M325.73 117.6v1.6M350.87 117.6v1.6M376.01 117.6v1.6M401.16 117.6v1.6M426.3 117.6v1.6" fill="none" stroke="#555" stroke-width="1"/>
<g font-family="'DejaVu Sans','Liberation Sans',sans-serif" font-weight="bold" font-size="6.0" fill="#222">
<text x="244.3" y="119.62" text-anchor="end" font-size="5.6">0.4</text>
<text x="430.9" y="119.62" font-size="5.6">0.4</text>
<text x="244.3" y="103.52" text-anchor="end" font-size="5.6">0.5</text>
<text x="430.9" y="103.52" font-size="5.6">0.5</text>
<text x="244.3" y="87.42" text-anchor="end" font-size="5.6">0.6</text>
<text x="430.9" y="87.42" font-size="5.6">0.6</text>
<text x="244.3" y="71.32" text-anchor="end" font-size="5.6">0.7</text>
<text x="430.9" y="71.32" font-size="5.6">0.7</text>
<text x="244.3" y="55.22" text-anchor="end" font-size="5.6">0.8</text>
<text x="430.9" y="55.22" font-size="5.6">0.8</text>
<text x="244.3" y="39.12" text-anchor="end" font-size="5.6">0.9</text>
<text x="430.9" y="39.12" font-size="5.6">0.9</text>
<text x="244.3" y="23.02" text-anchor="end" font-size="5.6">1.0</text>
<text x="430.9" y="23.02" font-size="5.6">1.0</text>
<text x="249.7" y="127.36" text-anchor="middle">-60</text>
<text x="274.84" y="127.36" text-anchor="middle">-50</text>
<text x="299.99" y="127.36" text-anchor="middle">-40</text>
<text x="325.13" y="127.36" text-anchor="middle">-30</text>
<text x="350.27" y="127.36" text-anchor="middle">-20</text>
<text x="375.41" y="127.36" text-anchor="middle">-10</text>
<text x="401.16" y="127.36" text-anchor="middle">0</text>
<text x="426.3" y="127.36" text-anchor="middle">10</text>
<text x="278.5" y="135.86" textLength="119" lengthAdjust="spacingAndGlyphs">Time after Cyt. <tspan font-style="italic" font-weight="normal" stroke="#222" stroke-width="0.22">c</tspan>-GFP release (min)</text>
<text transform="translate(232.36 107.4) rotate(-90)" textLength="77" lengthAdjust="spacingAndGlyphs">Punctate/diffuse index</text>
<text transform="translate(443.84 31.7) rotate(90)" textLength="75.3" lengthAdjust="spacingAndGlyphs">Total Brightness index</text>
</g>
<path d="M260.4 98.6h7.6" stroke="#8fd455" stroke-width="0.8"/>
<circle cx="264.2" cy="98.6" r="1.2" fill="#93d35f" stroke="#4e9a2e" stroke-width="0.8"/>
<path d="M260.4 106.2h7.6" stroke="#cf1f3c" stroke-width="0.7"/>
<circle cx="264.2" cy="106.2" r="1.05" fill="#8f0d26"/>
<g font-family="'DejaVu Sans','Liberation Sans',sans-serif" font-weight="bold" font-size="6.4" fill="#1c1c1c">
<text x="269.7" y="100.9" textLength="38.2" lengthAdjust="spacingAndGlyphs">Cyt. <tspan font-style="italic" font-weight="normal" stroke="#222" stroke-width="0.22">c</tspan>-GFP</text>
<text x="269.7" y="108.5" textLength="19.7" lengthAdjust="spacingAndGlyphs">TMRE</text>
</g>
</g>
<g>
<polyline points="250.3,197.94 255.12,199.06 259.93,200.93 264.75,199.34 269.57,195.7 274.39,197.29 279.2,197.57 284.02,204.94 288.84,206.63 293.65,206.63 298.47,204.2 303.29,207.56 308.11,207.37 312.92,207.09 317.74,204.2 322.56,202.42 327.37,204.66 332.19,201.96 337.01,198.59 341.83,201.3 346.64,197.94 351.46,198.59 356.28,204.94 361.09,198.78 365.91,201.96 370.73,203.92 375.55,207.09 380.36,208.31 385.18,209.05 390,210.36 394.81,221.76 399.63,228.39 404.45,232.78 409.27,231.56 414.08,228.95 418.9,229.32" fill="none" stroke="#8fd455" stroke-width="1"/>
<circle cx="250.3" cy="197.94" r="1.45" fill="#93d35f" stroke="#4e9a2e" stroke-width="0.9"/>
<circle cx="255.12" cy="199.06" r="1.45" fill="#93d35f" stroke="#4e9a2e" stroke-width="0.9"/>
<circle cx="259.93" cy="200.93" r="1.45" fill="#93d35f" stroke="#4e9a2e" stroke-width="0.9"/>
<circle cx="264.75" cy="199.34" r="1.45" fill="#93d35f" stroke="#4e9a2e" stroke-width="0.9"/>
<circle cx="269.57" cy="195.7" r="1.45" fill="#93d35f" stroke="#4e9a2e" stroke-width="0.9"/>
<circle cx="274.39" cy="197.29" r="1.45" fill="#93d35f" stroke="#4e9a2e" stroke-width="0.9"/>
<circle cx="279.2" cy="197.57" r="1.45" fill="#93d35f" stroke="#4e9a2e" stroke-width="0.9"/>
<circle cx="284.02" cy="204.94" r="1.45" fill="#93d35f" stroke="#4e9a2e" stroke-width="0.9"/>
<circle cx="288.84" cy="206.63" r="1.45" fill="#93d35f" stroke="#4e9a2e" stroke-width="0.9"/>
<circle cx="293.65" cy="206.63" r="1.45" fill="#93d35f" stroke="#4e9a2e" stroke-width="0.9"/>
<circle cx="298.47" cy="204.2" r="1.45" fill="#93d35f" stroke="#4e9a2e" stroke-width="0.9"/>
<circle cx="303.29" cy="207.56" r="1.45" fill="#93d35f" stroke="#4e9a2e" stroke-width="0.9"/>
<circle cx="308.11" cy="207.37" r="1.45" fill="#93d35f" stroke="#4e9a2e" stroke-width="0.9"/>
<circle cx="312.92" cy="207.09" r="1.45" fill="#93d35f" stroke="#4e9a2e" stroke-width="0.9"/>
<circle cx="317.74" cy="204.2" r="1.45" fill="#93d35f" stroke="#4e9a2e" stroke-width="0.9"/>
<circle cx="322.56" cy="202.42" r="1.45" fill="#93d35f" stroke="#4e9a2e" stroke-width="0.9"/>
<circle cx="327.37" cy="204.66" r="1.45" fill="#93d35f" stroke="#4e9a2e" stroke-width="0.9"/>
<circle cx="332.19" cy="201.96" r="1.45" fill="#93d35f" stroke="#4e9a2e" stroke-width="0.9"/>
<circle cx="337.01" cy="198.59" r="1.45" fill="#93d35f" stroke="#4e9a2e" stroke-width="0.9"/>
<circle cx="341.83" cy="201.3" r="1.45" fill="#93d35f" stroke="#4e9a2e" stroke-width="0.9"/>
<circle cx="346.64" cy="197.94" r="1.45" fill="#93d35f" stroke="#4e9a2e" stroke-width="0.9"/>
<circle cx="351.46" cy="198.59" r="1.45" fill="#93d35f" stroke="#4e9a2e" stroke-width="0.9"/>
<circle cx="356.28" cy="204.94" r="1.45" fill="#93d35f" stroke="#4e9a2e" stroke-width="0.9"/>
<circle cx="361.09" cy="198.78" r="1.45" fill="#93d35f" stroke="#4e9a2e" stroke-width="0.9"/>
<circle cx="365.91" cy="201.96" r="1.45" fill="#93d35f" stroke="#4e9a2e" stroke-width="0.9"/>
<circle cx="370.73" cy="203.92" r="1.45" fill="#93d35f" stroke="#4e9a2e" stroke-width="0.9"/>
<circle cx="375.55" cy="207.09" r="1.45" fill="#93d35f" stroke="#4e9a2e" stroke-width="0.9"/>
<circle cx="380.36" cy="208.31" r="1.45" fill="#93d35f" stroke="#4e9a2e" stroke-width="0.9"/>
<circle cx="385.18" cy="209.05" r="1.45" fill="#93d35f" stroke="#4e9a2e" stroke-width="0.9"/>
<circle cx="390" cy="210.36" r="1.45" fill="#93d35f" stroke="#4e9a2e" stroke-width="0.9"/>
<circle cx="394.81" cy="221.76" r="1.45" fill="#93d35f" stroke="#4e9a2e" stroke-width="0.9"/>
<circle cx="399.63" cy="228.39" r="1.45" fill="#93d35f" stroke="#4e9a2e" stroke-width="0.9"/>
<circle cx="404.45" cy="232.78" r="1.45" fill="#93d35f" stroke="#4e9a2e" stroke-width="0.9"/>
<circle cx="409.27" cy="231.56" r="1.45" fill="#93d35f" stroke="#4e9a2e" stroke-width="0.9"/>
<circle cx="414.08" cy="228.95" r="1.45" fill="#93d35f" stroke="#4e9a2e" stroke-width="0.9"/>
<circle cx="418.9" cy="229.32" r="1.45" fill="#93d35f" stroke="#4e9a2e" stroke-width="0.9"/>
<path d="M250.3 192.34V203.54M249.5 192.34h1.6M249.5 203.54h1.6M255.12 193.18V204.94M254.32 193.18h1.6M254.32 204.94h1.6M259.93 194.39V207.47M259.13 194.39h1.6M259.13 207.47h1.6M264.75 194.02V204.66M263.95 194.02h1.6M263.95 204.66h1.6M269.57 191.03V200.37M268.77 191.03h1.6M268.77 200.37h1.6M274.39 192.15V202.42M273.59 192.15h1.6M273.59 202.42h1.6M279.2 191.4V203.73M278.4 191.4h1.6M278.4 203.73h1.6M284.02 198.41V211.48M283.22 198.41h1.6M283.22 211.48h1.6M288.84 199.34V213.91M288.04 199.34h1.6M288.04 213.91h1.6M293.65 199.34V213.91M292.85 199.34h1.6M292.85 213.91h1.6M298.47 195.79V212.6M297.67 195.79h1.6M297.67 212.6h1.6M303.29 199.9V215.22M302.49 199.9h1.6M302.49 215.22h1.6M308.11 198.97V215.78M307.31 198.97h1.6M307.31 215.78h1.6M312.92 197.29V216.9M312.12 197.29h1.6M312.12 216.9h1.6M317.74 195.42V212.98M316.94 195.42h1.6M316.94 212.98h1.6M322.56 193.27V211.58M321.76 193.27h1.6M321.76 211.58h1.6M327.37 195.32V214M326.57 195.32h1.6M326.57 214h1.6M332.19 193.92V209.99M331.39 193.92h1.6M331.39 209.99h1.6M337.01 190.56V206.63M336.21 190.56h1.6M336.21 206.63h1.6M341.83 193.83V208.77M341.03 193.83h1.6M341.03 208.77h1.6M346.64 190V205.88M345.84 190h1.6M345.84 205.88h1.6M351.46 191.12V206.07M350.66 191.12h1.6M350.66 206.07h1.6M356.28 196.54V213.35M355.48 196.54h1.6M355.48 213.35h1.6M361.09 190.84V206.72M360.29 190.84h1.6M360.29 206.72h1.6M365.91 194.48V209.43M365.11 194.48h1.6M365.11 209.43h1.6M370.73 195.98V211.86M369.93 195.98h1.6M369.93 211.86h1.6M375.55 199.15V215.03M374.75 199.15h1.6M374.75 215.03h1.6M380.36 200.37V216.25M379.56 200.37h1.6M379.56 216.25h1.6M385.18 201.12V216.99M384.38 201.12h1.6M384.38 216.99h1.6M390 203.82V216.9M389.2 203.82h1.6M389.2 216.9h1.6M394.81 218.02V225.49M394.01 218.02h1.6M394.01 225.49h1.6M399.63 224.65V232.12M398.83 224.65h1.6M398.83 232.12h1.6M404.45 229.04V236.51M403.65 229.04h1.6M403.65 236.51h1.6M409.27 227.17V235.95M408.47 227.17h1.6M408.47 235.95h1.6M414.08 222.41V235.49M413.28 222.41h1.6M413.28 235.49h1.6M250.3 161.7V193.46M249.5 161.7h1.6M249.5 193.46h1.6M255.12 164.78V197.47M254.32 164.78h1.6M254.32 197.47h1.6M259.93 158.62V193.36M259.13 158.62h1.6M259.13 193.36h1.6M264.75 157.78V194.39M263.95 157.78h1.6M263.95 194.39h1.6M269.57 158.43V195.79M268.77 158.43h1.6M268.77 195.79h1.6M274.39 161.33V195.88M273.59 161.33h1.6M273.59 195.88h1.6M279.2 163.66V197.85M278.4 163.66h1.6M278.4 197.85h1.6M284.02 167.68V199.25M283.22 167.68h1.6M283.22 199.25h1.6M288.84 172.72V200.55M288.04 172.72h1.6M288.04 200.55h1.6M293.65 177.39V203.17M292.85 177.39h1.6M292.85 203.17h1.6M298.47 167.68V197.75M297.67 167.68h1.6M297.67 197.75h1.6M303.29 165.44V199.62M302.49 165.44h1.6M302.49 199.62h1.6M308.11 162.54V197.66M307.31 162.54h1.6M307.31 197.66h1.6M312.92 170.11V200.18M312.12 170.11h1.6M312.12 200.18h1.6M317.74 174.22V199.99M316.94 174.22h1.6M316.94 199.99h1.6M322.56 168.05V196.45M321.76 168.05h1.6M321.76 196.45h1.6M327.37 172.07V201.21M326.57 172.07h1.6M326.57 201.21h1.6M332.19 171.23V199.06M331.39 171.23h1.6M331.39 199.06h1.6M337.01 170.2V199.34M336.21 170.2h1.6M336.21 199.34h1.6M341.83 167.21V196.73M341.03 167.21h1.6M341.03 196.73h1.6M346.64 167.12V194.39M345.84 167.12h1.6M345.84 194.39h1.6M351.46 169.55V193.46M350.66 169.55h1.6M350.66 193.46h1.6M356.28 168.14V191.49M355.48 168.14h1.6M355.48 191.49h1.6M361.09 165.16V192.06M360.29 165.16h1.6M360.29 192.06h1.6M365.91 166.18V193.08M365.11 166.18h1.6M365.11 193.08h1.6M370.73 166.56V194.39M369.93 166.56h1.6M369.93 194.39h1.6M375.55 169.08V197.47M374.75 169.08h1.6M374.75 197.47h1.6M380.36 166.65V198.78M379.56 166.65h1.6M379.56 198.78h1.6M385.18 164.69V199.81M384.38 164.69h1.6M384.38 199.81h1.6M390 169.17V199.81M389.2 169.17h1.6M389.2 199.81h1.6M394.81 168.15V197.29M394.01 168.15h1.6M394.01 197.29h1.6M399.63 173.1V203.17M398.83 173.1h1.6M398.83 203.17h1.6M404.45 175.34V211.76M403.65 175.34h1.6M403.65 211.76h1.6M409.27 185.33V220.08M408.47 185.33h1.6M408.47 220.08h1.6M414.08 192.06V222.13M413.28 192.06h1.6M413.28 222.13h1.6" stroke="#3c3c3c" stroke-width="0.8" fill="none" opacity="0.88"/>
<polyline points="250.3,177.58 255.12,181.13 259.93,175.99 264.75,176.08 269.57,177.11 274.39,178.61 279.2,180.75 284.02,183.46 288.84,186.64 293.65,190.28 298.47,182.72 303.29,182.53 308.11,180.1 312.92,185.14 317.74,187.11 322.56,182.25 327.37,186.64 332.19,185.14 337.01,184.77 341.83,181.97 346.64,180.75 351.46,181.5 356.28,179.82 361.09,178.61 365.91,179.63 370.73,180.47 375.55,183.28 380.36,182.72 385.18,182.25 390,184.49 394.81,182.72 399.63,188.13 404.45,193.55 409.27,202.7 414.08,207.09 418.9,214.94" fill="none" stroke="#cf1f3c" stroke-width="0.95"/>
<circle cx="250.3" cy="177.58" r="1.1" fill="#a30f2a"/>
<circle cx="255.12" cy="181.13" r="1.1" fill="#a30f2a"/>
<circle cx="259.93" cy="175.99" r="1.1" fill="#a30f2a"/>
<circle cx="264.75" cy="176.08" r="1.1" fill="#a30f2a"/>
<circle cx="269.57" cy="177.11" r="1.1" fill="#a30f2a"/>
<circle cx="274.39" cy="178.61" r="1.1" fill="#a30f2a"/>
<circle cx="279.2" cy="180.75" r="1.1" fill="#a30f2a"/>
<circle cx="284.02" cy="183.46" r="1.1" fill="#a30f2a"/>
<circle cx="288.84" cy="186.64" r="1.1" fill="#a30f2a"/>
<circle cx="293.65" cy="190.28" r="1.1" fill="#a30f2a"/>
<circle cx="298.47" cy="182.72" r="1.1" fill="#a30f2a"/>
<circle cx="303.29" cy="182.53" r="1.1" fill="#a30f2a"/>
<circle cx="308.11" cy="180.1" r="1.1" fill="#a30f2a"/>
<circle cx="312.92" cy="185.14" r="1.1" fill="#a30f2a"/>
<circle cx="317.74" cy="187.11" r="1.1" fill="#a30f2a"/>
<circle cx="322.56" cy="182.25" r="1.1" fill="#a30f2a"/>
<circle cx="327.37" cy="186.64" r="1.1" fill="#a30f2a"/>
<circle cx="332.19" cy="185.14" r="1.1" fill="#a30f2a"/>
<circle cx="337.01" cy="184.77" r="1.1" fill="#a30f2a"/>
<circle cx="341.83" cy="181.97" r="1.1" fill="#a30f2a"/>
<circle cx="346.64" cy="180.75" r="1.1" fill="#a30f2a"/>
<circle cx="351.46" cy="181.5" r="1.1" fill="#a30f2a"/>
<circle cx="356.28" cy="179.82" r="1.1" fill="#a30f2a"/>
<circle cx="361.09" cy="178.61" r="1.1" fill="#a30f2a"/>
<circle cx="365.91" cy="179.63" r="1.1" fill="#a30f2a"/>
<circle cx="370.73" cy="180.47" r="1.1" fill="#a30f2a"/>
<circle cx="375.55" cy="183.28" r="1.1" fill="#a30f2a"/>
<circle cx="380.36" cy="182.72" r="1.1" fill="#a30f2a"/>
<circle cx="385.18" cy="182.25" r="1.1" fill="#a30f2a"/>
<circle cx="390" cy="184.49" r="1.1" fill="#a30f2a"/>
<circle cx="394.81" cy="182.72" r="1.1" fill="#a30f2a"/>
<circle cx="399.63" cy="188.13" r="1.1" fill="#a30f2a"/>
<circle cx="404.45" cy="193.55" r="1.1" fill="#a30f2a"/>
<circle cx="409.27" cy="202.7" r="1.1" fill="#a30f2a"/>
<circle cx="414.08" cy="207.09" r="1.1" fill="#a30f2a"/>
<circle cx="418.9" cy="214.94" r="1.1" fill="#a30f2a"/>
<path d="M250.3 151.8V245.2H418.9V151.8M250.3 245.2h-1.6M418.9 245.2h1.6M250.3 226.52h-1.6M418.9 226.52h1.6M250.3 207.84h-1.6M418.9 207.84h1.6M250.3 189.16h-1.6M418.9 189.16h1.6M250.3 170.48h-1.6M418.9 170.48h1.6M250.3 151.8h-1.6M418.9 151.8h1.6M250.3 245.2v1.6M274.39 245.2v1.6M298.47 245.2v1.6M322.56 245.2v1.6M346.64 245.2v1.6M370.73 245.2v1.6M394.81 245.2v1.6M418.9 245.2v1.6" fill="none" stroke="#555" stroke-width="1"/>
<g font-family="'DejaVu Sans','Liberation Sans',sans-serif" font-weight="bold" font-size="6.0" fill="#222">
<text x="244.3" y="247.22" text-anchor="end" font-size="5.6">0.4</text>
<text x="423.7" y="247.22" font-size="5.6">0.4</text>
<text x="244.3" y="228.54" text-anchor="end" font-size="5.6">0.6</text>
<text x="423.7" y="228.54" font-size="5.6">0.6</text>
<text x="244.3" y="209.86" text-anchor="end" font-size="5.6">0.8</text>
<text x="423.7" y="209.86" font-size="5.6">0.8</text>
<text x="244.3" y="191.18" text-anchor="end" font-size="5.6">1.0</text>
<text x="423.7" y="191.18" font-size="5.6">1.0</text>
<text x="244.3" y="172.5" text-anchor="end" font-size="5.6">1.2</text>
<text x="423.7" y="172.5" font-size="5.6">1.2</text>
<text x="244.3" y="153.82" text-anchor="end" font-size="5.6">1.4</text>
<text x="423.7" y="153.82" font-size="5.6">1.4</text>
<text x="249.7" y="256.26" text-anchor="middle">-60</text>
<text x="273.79" y="256.26" text-anchor="middle">-50</text>
<text x="297.87" y="256.26" text-anchor="middle">-40</text>
<text x="321.96" y="256.26" text-anchor="middle">-30</text>
<text x="346.04" y="256.26" text-anchor="middle">-20</text>
<text x="370.13" y="256.26" text-anchor="middle">-10</text>
<text x="394.81" y="256.26" text-anchor="middle">0</text>
<text x="418.9" y="256.26" text-anchor="middle">10</text>
<text x="274.7" y="265.86" textLength="119.6" lengthAdjust="spacingAndGlyphs">Time after Cyt. <tspan font-style="italic" font-weight="normal" stroke="#222" stroke-width="0.22">c</tspan>-GFP release (min)</text>
<text transform="translate(231.26 237.4) rotate(-90)" textLength="76.4" lengthAdjust="spacingAndGlyphs">Punctate/diffuse index</text>
<text transform="translate(438.24 161) rotate(90)" textLength="74.6" lengthAdjust="spacingAndGlyphs">Total brightness index</text>
</g>
<path d="M260.8 225.5h7.6" stroke="#8fd455" stroke-width="0.8"/>
<circle cx="264.6" cy="225.5" r="1.2" fill="#93d35f" stroke="#4e9a2e" stroke-width="0.8"/>
<path d="M260.8 233.6h7.6" stroke="#cf1f3c" stroke-width="0.7"/>
<circle cx="264.6" cy="233.6" r="1.05" fill="#8f0d26"/>
<g font-family="'DejaVu Sans','Liberation Sans',sans-serif" font-weight="bold" font-size="6.4" fill="#1c1c1c">
<text x="269.8" y="227.8" textLength="38.2" lengthAdjust="spacingAndGlyphs">Cyt. <tspan font-style="italic" font-weight="normal" stroke="#222" stroke-width="0.22">c</tspan>-GFP</text>
<text x="269.8" y="235.9" textLength="19.7" lengthAdjust="spacingAndGlyphs">TMRE</text>
</g>
</g>
<g>
<polyline points="484.6,71.21 488.81,71.55 493.03,73.4 497.24,70.51 501.45,71.21 505.66,74.56 509.88,73.17 514.09,73.17 518.3,73.75 522.51,75.14 526.73,74.1 530.94,75.25 535.15,75.6 539.36,75.25 543.58,74.91 547.79,75.6 552,76.06 556.21,76.29 560.43,76.29 564.64,76.64 568.85,77.8 573.06,75.6 577.28,72.02 581.49,75.95 585.7,75.25 589.91,75.72 594.12,77.8 598.34,82.19 602.55,85.89 606.76,90.52 610.98,103 615.19,103.7 619.4,104.16 623.61,103.35 627.83,103.7 632.04,105.08 636.25,105.89 640.46,104.39 644.67,103.35 648.89,104.39 653.1,104.16" fill="none" stroke="#8fd455" stroke-width="1"/>
<circle cx="484.6" cy="71.21" r="1.45" fill="#93d35f" stroke="#4e9a2e" stroke-width="0.9"/>
<circle cx="488.81" cy="71.55" r="1.45" fill="#93d35f" stroke="#4e9a2e" stroke-width="0.9"/>
<circle cx="493.03" cy="73.4" r="1.45" fill="#93d35f" stroke="#4e9a2e" stroke-width="0.9"/>
<circle cx="497.24" cy="70.51" r="1.45" fill="#93d35f" stroke="#4e9a2e" stroke-width="0.9"/>
<circle cx="501.45" cy="71.21" r="1.45" fill="#93d35f" stroke="#4e9a2e" stroke-width="0.9"/>
<circle cx="505.66" cy="74.56" r="1.45" fill="#93d35f" stroke="#4e9a2e" stroke-width="0.9"/>
<circle cx="509.88" cy="73.17" r="1.45" fill="#93d35f" stroke="#4e9a2e" stroke-width="0.9"/>
<circle cx="514.09" cy="73.17" r="1.45" fill="#93d35f" stroke="#4e9a2e" stroke-width="0.9"/>
<circle cx="518.3" cy="73.75" r="1.45" fill="#93d35f" stroke="#4e9a2e" stroke-width="0.9"/>
<circle cx="522.51" cy="75.14" r="1.45" fill="#93d35f" stroke="#4e9a2e" stroke-width="0.9"/>
<circle cx="526.73" cy="74.1" r="1.45" fill="#93d35f" stroke="#4e9a2e" stroke-width="0.9"/>
<circle cx="530.94" cy="75.25" r="1.45" fill="#93d35f" stroke="#4e9a2e" stroke-width="0.9"/>
<circle cx="535.15" cy="75.6" r="1.45" fill="#93d35f" stroke="#4e9a2e" stroke-width="0.9"/>
<circle cx="539.36" cy="75.25" r="1.45" fill="#93d35f" stroke="#4e9a2e" stroke-width="0.9"/>
<circle cx="543.58" cy="74.91" r="1.45" fill="#93d35f" stroke="#4e9a2e" stroke-width="0.9"/>
<circle cx="547.79" cy="75.6" r="1.45" fill="#93d35f" stroke="#4e9a2e" stroke-width="0.9"/>
<circle cx="552" cy="76.06" r="1.45" fill="#93d35f" stroke="#4e9a2e" stroke-width="0.9"/>
<circle cx="556.21" cy="76.29" r="1.45" fill="#93d35f" stroke="#4e9a2e" stroke-width="0.9"/>
<circle cx="560.43" cy="76.29" r="1.45" fill="#93d35f" stroke="#4e9a2e" stroke-width="0.9"/>
<circle cx="564.64" cy="76.64" r="1.45" fill="#93d35f" stroke="#4e9a2e" stroke-width="0.9"/>
<circle cx="568.85" cy="77.8" r="1.45" fill="#93d35f" stroke="#4e9a2e" stroke-width="0.9"/>
<circle cx="573.06" cy="75.6" r="1.45" fill="#93d35f" stroke="#4e9a2e" stroke-width="0.9"/>
<circle cx="577.28" cy="72.02" r="1.45" fill="#93d35f" stroke="#4e9a2e" stroke-width="0.9"/>
<circle cx="581.49" cy="75.95" r="1.45" fill="#93d35f" stroke="#4e9a2e" stroke-width="0.9"/>
<circle cx="585.7" cy="75.25" r="1.45" fill="#93d35f" stroke="#4e9a2e" stroke-width="0.9"/>
<circle cx="589.91" cy="75.72" r="1.45" fill="#93d35f" stroke="#4e9a2e" stroke-width="0.9"/>
<circle cx="594.12" cy="77.8" r="1.45" fill="#93d35f" stroke="#4e9a2e" stroke-width="0.9"/>
<circle cx="598.34" cy="82.19" r="1.45" fill="#93d35f" stroke="#4e9a2e" stroke-width="0.9"/>
<circle cx="602.55" cy="85.89" r="1.45" fill="#93d35f" stroke="#4e9a2e" stroke-width="0.9"/>
<circle cx="606.76" cy="90.52" r="1.45" fill="#93d35f" stroke="#4e9a2e" stroke-width="0.9"/>
<circle cx="610.98" cy="103" r="1.45" fill="#93d35f" stroke="#4e9a2e" stroke-width="0.9"/>
<circle cx="615.19" cy="103.7" r="1.45" fill="#93d35f" stroke="#4e9a2e" stroke-width="0.9"/>
<circle cx="619.4" cy="104.16" r="1.45" fill="#93d35f" stroke="#4e9a2e" stroke-width="0.9"/>
<circle cx="623.61" cy="103.35" r="1.45" fill="#93d35f" stroke="#4e9a2e" stroke-width="0.9"/>
<circle cx="627.83" cy="103.7" r="1.45" fill="#93d35f" stroke="#4e9a2e" stroke-width="0.9"/>
<circle cx="632.04" cy="105.08" r="1.45" fill="#93d35f" stroke="#4e9a2e" stroke-width="0.9"/>
<circle cx="636.25" cy="105.89" r="1.45" fill="#93d35f" stroke="#4e9a2e" stroke-width="0.9"/>
<circle cx="640.46" cy="104.39" r="1.45" fill="#93d35f" stroke="#4e9a2e" stroke-width="0.9"/>
<circle cx="644.67" cy="103.35" r="1.45" fill="#93d35f" stroke="#4e9a2e" stroke-width="0.9"/>
<circle cx="648.89" cy="104.39" r="1.45" fill="#93d35f" stroke="#4e9a2e" stroke-width="0.9"/>
<circle cx="653.1" cy="104.16" r="1.45" fill="#93d35f" stroke="#4e9a2e" stroke-width="0.9"/>
<path d="M484.6 65.42V76.99M483.8 65.42h1.6M483.8 76.99h1.6M488.81 65.42V77.68M488.01 65.42h1.6M488.01 77.68h1.6M493.03 66.81V79.99M492.23 66.81h1.6M492.23 79.99h1.6M497.24 64.73V76.29M496.44 64.73h1.6M496.44 76.29h1.6M501.45 65.42V76.99M500.65 65.42h1.6M500.65 76.99h1.6M505.66 67.62V81.5M504.86 67.62h1.6M504.86 81.5h1.6M509.88 65.89V80.46M509.07 65.89h1.6M509.07 80.46h1.6M514.09 66.58V79.76M513.29 66.58h1.6M513.29 79.76h1.6M518.3 67.39V80.11M517.5 67.39h1.6M517.5 80.11h1.6M522.51 68.78V81.5M521.71 68.78h1.6M521.71 81.5h1.6M526.73 66.12V82.07M525.93 66.12h1.6M525.93 82.07h1.6M530.94 68.89V81.61M530.14 68.89h1.6M530.14 81.61h1.6M535.15 69.82V81.38M534.35 69.82h1.6M534.35 81.38h1.6M539.36 69.47V81.03M538.56 69.47h1.6M538.56 81.03h1.6M543.58 69.12V80.69M542.78 69.12h1.6M542.78 80.69h1.6M547.79 69.82V81.38M546.99 69.82h1.6M546.99 81.38h1.6M552 70.28V81.84M551.2 70.28h1.6M551.2 81.84h1.6M556.21 70.51V82.08M555.41 70.51h1.6M555.41 82.08h1.6M560.43 70.51V82.08M559.63 70.51h1.6M559.63 82.08h1.6M564.64 70.86V82.42M563.84 70.86h1.6M563.84 82.42h1.6M568.85 72.02V83.58M568.05 72.02h1.6M568.05 83.58h1.6M573.06 69.82V81.38M572.26 69.82h1.6M572.26 81.38h1.6M577.28 66.23V77.8M576.48 66.23h1.6M576.48 77.8h1.6M581.49 70.17V81.73M580.69 70.17h1.6M580.69 81.73h1.6M585.7 69.47V81.03M584.9 69.47h1.6M584.9 81.03h1.6M589.91 69.93V81.5M589.11 69.93h1.6M589.11 81.5h1.6M594.12 72.02V83.58M593.33 72.02h1.6M593.33 83.58h1.6M598.34 76.41V87.97M597.54 76.41h1.6M597.54 87.97h1.6M602.55 80.11V91.67M601.75 80.11h1.6M601.75 91.67h1.6M606.76 85.43V95.6M605.96 85.43h1.6M605.96 95.6h1.6M610.98 96.41V109.59M610.18 96.41h1.6M610.18 109.59h1.6M615.19 97.11V110.29M614.39 97.11h1.6M614.39 110.29h1.6M619.4 96.53V111.79M618.6 96.53h1.6M618.6 111.79h1.6M623.61 96.76V109.94M622.81 96.76h1.6M622.81 109.94h1.6M627.83 97.11V110.29M627.03 97.11h1.6M627.03 110.29h1.6M632.04 99.3V110.87M631.24 99.3h1.6M631.24 110.87h1.6M636.25 100.11V111.68M635.45 100.11h1.6M635.45 111.68h1.6M640.46 100V108.78M639.66 100h1.6M639.66 108.78h1.6M644.67 98.96V107.74M643.88 98.96h1.6M643.88 107.74h1.6M648.89 100V108.78M648.09 100h1.6M648.09 108.78h1.6M653.1 101.85V106.47M652.3 101.85h1.6M652.3 106.47h1.6M484.6 44.03V64.85M483.8 44.03h1.6M483.8 64.85h1.6M488.81 44.27V65.31M488.01 44.27h1.6M488.01 65.31h1.6M493.03 43.11V65.77M492.23 43.11h1.6M492.23 65.77h1.6M497.24 40.68V63.81M496.44 40.68h1.6M496.44 63.81h1.6M501.45 44.03V64.85M500.65 44.03h1.6M500.65 64.85h1.6M505.66 41.95V64.85M504.86 41.95h1.6M504.86 64.85h1.6M509.88 37.79V60.92M509.07 37.79h1.6M509.07 60.92h1.6M514.09 39.99V62.42M513.29 39.99h1.6M513.29 62.42h1.6M518.3 39.29V61.73M517.5 39.29h1.6M517.5 61.73h1.6M522.51 38.37V62.42M521.71 38.37h1.6M521.71 62.42h1.6M526.73 35.59V62.19M525.93 35.59h1.6M525.93 62.19h1.6M530.94 38.25V61.38M530.14 38.25h1.6M530.14 61.38h1.6M535.15 38.72V62.77M534.35 38.72h1.6M534.35 62.77h1.6M539.36 35.36V61.26M538.56 35.36h1.6M538.56 61.26h1.6M543.58 36.06V61.26M542.78 36.06h1.6M542.78 61.26h1.6M547.79 34.55V61.15M546.99 34.55h1.6M546.99 61.15h1.6M552 32.82V58.49M551.2 32.82h1.6M551.2 58.49h1.6M556.21 30.28V57.33M555.41 30.28h1.6M555.41 57.33h1.6M560.43 33.17V59.07M559.63 33.17h1.6M559.63 59.07h1.6M564.64 34.67V61.96M563.84 34.67h1.6M563.84 61.96h1.6M568.85 31.08V59.3M568.05 31.08h1.6M568.05 59.3h1.6M573.06 30.74V58.49M572.26 30.74h1.6M572.26 58.49h1.6M577.28 31.78V56.06M576.48 31.78h1.6M576.48 56.06h1.6M581.49 35.48V56.75M580.69 35.48h1.6M580.69 56.75h1.6M585.7 35.13V57.1M584.9 35.13h1.6M584.9 57.1h1.6M589.91 34.78V57.45M589.11 34.78h1.6M589.11 57.45h1.6M594.12 31.2V54.33M593.33 31.2h1.6M593.33 54.33h1.6M598.34 32.24V55.37M597.54 32.24h1.6M597.54 55.37h1.6M602.55 33.97V55.25M601.75 33.97h1.6M601.75 55.25h1.6M606.76 36.63V59.07M605.96 36.63h1.6M605.96 59.07h1.6M610.98 33.17V57.22M610.18 33.17h1.6M610.18 57.22h1.6M615.19 41.26V60.22M614.39 41.26h1.6M614.39 60.22h1.6M619.4 42.53V62.88M618.6 42.53h1.6M618.6 62.88h1.6M623.61 40.22V62.88M622.81 40.22h1.6M622.81 62.88h1.6M627.83 49.35V69.24M627.03 49.35h1.6M627.03 69.24h1.6M632.04 52.94V71.9M631.24 52.94h1.6M631.24 71.9h1.6M636.25 58.02V76.52M635.45 58.02h1.6M635.45 76.52h1.6M640.46 63.92V83.58M639.66 63.92h1.6M639.66 83.58h1.6M644.67 69.24V87.74M643.88 69.24h1.6M643.88 87.74h1.6M648.89 74.21V90.17M648.09 74.21h1.6M648.09 90.17h1.6" stroke="#3c3c3c" stroke-width="0.8" fill="none" opacity="0.88"/>
<polyline points="484.6,54.44 488.81,54.79 493.03,54.44 497.24,52.24 501.45,54.44 505.66,53.4 509.88,49.35 514.09,51.2 518.3,50.51 522.51,50.39 526.73,48.89 530.94,49.82 535.15,50.74 539.36,48.31 543.58,48.66 547.79,47.85 552,45.65 556.21,43.8 560.43,46.12 564.64,48.31 568.85,45.19 573.06,44.61 577.28,43.92 581.49,46.12 585.7,46.12 589.91,46.12 594.12,42.76 598.34,43.8 602.55,44.61 606.76,47.85 610.98,45.19 615.19,50.74 619.4,52.71 623.61,51.55 627.83,59.3 632.04,62.42 636.25,67.27 640.46,73.75 644.67,78.49 648.89,82.19 653.1,82.88" fill="none" stroke="#cf1f3c" stroke-width="0.95"/>
<circle cx="484.6" cy="54.44" r="1.1" fill="#a30f2a"/>
<circle cx="488.81" cy="54.79" r="1.1" fill="#a30f2a"/>
<circle cx="493.03" cy="54.44" r="1.1" fill="#a30f2a"/>
<circle cx="497.24" cy="52.24" r="1.1" fill="#a30f2a"/>
<circle cx="501.45" cy="54.44" r="1.1" fill="#a30f2a"/>
<circle cx="505.66" cy="53.4" r="1.1" fill="#a30f2a"/>
<circle cx="509.88" cy="49.35" r="1.1" fill="#a30f2a"/>
<circle cx="514.09" cy="51.2" r="1.1" fill="#a30f2a"/>
<circle cx="518.3" cy="50.51" r="1.1" fill="#a30f2a"/>
<circle cx="522.51" cy="50.39" r="1.1" fill="#a30f2a"/>
<circle cx="526.73" cy="48.89" r="1.1" fill="#a30f2a"/>
<circle cx="530.94" cy="49.82" r="1.1" fill="#a30f2a"/>
<circle cx="535.15" cy="50.74" r="1.1" fill="#a30f2a"/>
<circle cx="539.36" cy="48.31" r="1.1" fill="#a30f2a"/>
<circle cx="543.58" cy="48.66" r="1.1" fill="#a30f2a"/>
<circle cx="547.79" cy="47.85" r="1.1" fill="#a30f2a"/>
<circle cx="552" cy="45.65" r="1.1" fill="#a30f2a"/>
<circle cx="556.21" cy="43.8" r="1.1" fill="#a30f2a"/>
<circle cx="560.43" cy="46.12" r="1.1" fill="#a30f2a"/>
<circle cx="564.64" cy="48.31" r="1.1" fill="#a30f2a"/>
<circle cx="568.85" cy="45.19" r="1.1" fill="#a30f2a"/>
<circle cx="573.06" cy="44.61" r="1.1" fill="#a30f2a"/>
<circle cx="577.28" cy="43.92" r="1.1" fill="#a30f2a"/>
<circle cx="581.49" cy="46.12" r="1.1" fill="#a30f2a"/>
<circle cx="585.7" cy="46.12" r="1.1" fill="#a30f2a"/>
<circle cx="589.91" cy="46.12" r="1.1" fill="#a30f2a"/>
<circle cx="594.12" cy="42.76" r="1.1" fill="#a30f2a"/>
<circle cx="598.34" cy="43.8" r="1.1" fill="#a30f2a"/>
<circle cx="602.55" cy="44.61" r="1.1" fill="#a30f2a"/>
<circle cx="606.76" cy="47.85" r="1.1" fill="#a30f2a"/>
<circle cx="610.98" cy="45.19" r="1.1" fill="#a30f2a"/>
<circle cx="615.19" cy="50.74" r="1.1" fill="#a30f2a"/>
<circle cx="619.4" cy="52.71" r="1.1" fill="#a30f2a"/>
<circle cx="623.61" cy="51.55" r="1.1" fill="#a30f2a"/>
<circle cx="627.83" cy="59.3" r="1.1" fill="#a30f2a"/>
<circle cx="632.04" cy="62.42" r="1.1" fill="#a30f2a"/>
<circle cx="636.25" cy="67.27" r="1.1" fill="#a30f2a"/>
<circle cx="640.46" cy="73.75" r="1.1" fill="#a30f2a"/>
<circle cx="644.67" cy="78.49" r="1.1" fill="#a30f2a"/>
<circle cx="648.89" cy="82.19" r="1.1" fill="#a30f2a"/>
<circle cx="653.1" cy="82.88" r="1.1" fill="#a30f2a"/>
<path d="M484.6 23.8V116.3H653.1V23.8M484.6 116.3h-1.6M653.1 116.3h1.6M484.6 93.17h-1.6M653.1 93.17h1.6M484.6 70.05h-1.6M653.1 70.05h1.6M484.6 46.92h-1.6M653.1 46.92h1.6M484.6 23.8h-1.6M653.1 23.8h1.6M484.6 116.3v1.6M505.66 116.3v1.6M526.73 116.3v1.6M547.79 116.3v1.6M568.85 116.3v1.6M589.91 116.3v1.6M610.98 116.3v1.6M632.04 116.3v1.6M653.1 116.3v1.6" fill="none" stroke="#555" stroke-width="1"/>
<g font-family="'DejaVu Sans','Liberation Sans',sans-serif" font-weight="bold" font-size="6.0" fill="#222">
<text x="479.5" y="118.32" text-anchor="end" font-size="5.6">0.5</text>
<text x="658.1" y="118.32" font-size="5.6">0.5</text>
<text x="479.5" y="95.19" text-anchor="end" font-size="5.6">0.7</text>
<text x="658.1" y="95.19" font-size="5.6">0.7</text>
<text x="479.5" y="72.07" text-anchor="end" font-size="5.6">0.9</text>
<text x="658.1" y="72.07" font-size="5.6">0.9</text>
<text x="479.5" y="48.94" text-anchor="end" font-size="5.6">1.1</text>
<text x="658.1" y="48.94" font-size="5.6">1.1</text>
<text x="479.5" y="25.82" text-anchor="end" font-size="5.6">1.3</text>
<text x="658.1" y="25.82" font-size="5.6">1.3</text>
<text x="484" y="126.06" text-anchor="middle">-60</text>
<text x="505.06" y="126.06" text-anchor="middle">-50</text>
<text x="526.12" y="126.06" text-anchor="middle">-40</text>
<text x="547.19" y="126.06" text-anchor="middle">-30</text>
<text x="568.25" y="126.06" text-anchor="middle">-20</text>
<text x="589.31" y="126.06" text-anchor="middle">-10</text>
<text x="610.98" y="126.06" text-anchor="middle">0</text>
<text x="632.04" y="126.06" text-anchor="middle">10</text>
<text x="653.1" y="126.06" text-anchor="middle">20</text>
<text x="509.2" y="135.86" textLength="119.6" lengthAdjust="spacingAndGlyphs">Time after Cyt. <tspan font-style="italic" font-weight="normal" stroke="#222" stroke-width="0.22">c</tspan>-GFP release (min)</text>
<text transform="translate(466.36 108.1) rotate(-90)" textLength="77.1" lengthAdjust="spacingAndGlyphs">Punctate/diffuse index</text>
<text transform="translate(671.94 32.1) rotate(90)" textLength="74.9" lengthAdjust="spacingAndGlyphs">Total brightness index</text>
</g>
<path d="M494.5 97.5h7.6" stroke="#8fd455" stroke-width="0.8"/>
<circle cx="498.3" cy="97.5" r="1.2" fill="#93d35f" stroke="#4e9a2e" stroke-width="0.8"/>
<path d="M494.5 105.3h7.6" stroke="#cf1f3c" stroke-width="0.7"/>
<circle cx="498.3" cy="105.3" r="1.05" fill="#8f0d26"/>
<g font-family="'DejaVu Sans','Liberation Sans',sans-serif" font-weight="bold" font-size="6.4" fill="#1c1c1c">
<text x="503.9" y="99.8" textLength="38.2" lengthAdjust="spacingAndGlyphs">Cyt. <tspan font-style="italic" font-weight="normal" stroke="#222" stroke-width="0.22">c</tspan>-GFP</text>
<text x="503.9" y="107.6" textLength="19.7" lengthAdjust="spacingAndGlyphs">TMRE</text>
</g>
</g>
<g>
<polyline points="484.6,201.39 489.59,201.39 494.57,201.16 499.56,201.16 504.54,197.02 509.53,195.48 514.51,194.77 519.5,197.02 524.49,195.13 529.47,197.02 534.46,194.3 539.44,195.84 544.43,196.31 549.41,195.84 554.4,196.66 559.39,199.26 564.37,196.31 569.36,197.02 574.34,198.44 579.33,200.33 584.31,197.96 589.3,195.95 594.29,199.5 599.27,202.58 604.26,204.35 609.24,201.16 614.23,201.87 619.21,202.46 624.2,202.93 629.19,206.48 634.17,223.27 639.16,231.31 644.14,236.75 649.13,237.58 654.11,237.93 659.1,237.93" fill="none" stroke="#8fd455" stroke-width="1"/>
<circle cx="484.6" cy="201.39" r="1.45" fill="#93d35f" stroke="#4e9a2e" stroke-width="0.9"/>
<circle cx="489.59" cy="201.39" r="1.45" fill="#93d35f" stroke="#4e9a2e" stroke-width="0.9"/>
<circle cx="494.57" cy="201.16" r="1.45" fill="#93d35f" stroke="#4e9a2e" stroke-width="0.9"/>
<circle cx="499.56" cy="201.16" r="1.45" fill="#93d35f" stroke="#4e9a2e" stroke-width="0.9"/>
<circle cx="504.54" cy="197.02" r="1.45" fill="#93d35f" stroke="#4e9a2e" stroke-width="0.9"/>
<circle cx="509.53" cy="195.48" r="1.45" fill="#93d35f" stroke="#4e9a2e" stroke-width="0.9"/>
<circle cx="514.51" cy="194.77" r="1.45" fill="#93d35f" stroke="#4e9a2e" stroke-width="0.9"/>
<circle cx="519.5" cy="197.02" r="1.45" fill="#93d35f" stroke="#4e9a2e" stroke-width="0.9"/>
<circle cx="524.49" cy="195.13" r="1.45" fill="#93d35f" stroke="#4e9a2e" stroke-width="0.9"/>
<circle cx="529.47" cy="197.02" r="1.45" fill="#93d35f" stroke="#4e9a2e" stroke-width="0.9"/>
<circle cx="534.46" cy="194.3" r="1.45" fill="#93d35f" stroke="#4e9a2e" stroke-width="0.9"/>
<circle cx="539.44" cy="195.84" r="1.45" fill="#93d35f" stroke="#4e9a2e" stroke-width="0.9"/>
<circle cx="544.43" cy="196.31" r="1.45" fill="#93d35f" stroke="#4e9a2e" stroke-width="0.9"/>
<circle cx="549.41" cy="195.84" r="1.45" fill="#93d35f" stroke="#4e9a2e" stroke-width="0.9"/>
<circle cx="554.4" cy="196.66" r="1.45" fill="#93d35f" stroke="#4e9a2e" stroke-width="0.9"/>
<circle cx="559.39" cy="199.26" r="1.45" fill="#93d35f" stroke="#4e9a2e" stroke-width="0.9"/>
<circle cx="564.37" cy="196.31" r="1.45" fill="#93d35f" stroke="#4e9a2e" stroke-width="0.9"/>
<circle cx="569.36" cy="197.02" r="1.45" fill="#93d35f" stroke="#4e9a2e" stroke-width="0.9"/>
<circle cx="574.34" cy="198.44" r="1.45" fill="#93d35f" stroke="#4e9a2e" stroke-width="0.9"/>
<circle cx="579.33" cy="200.33" r="1.45" fill="#93d35f" stroke="#4e9a2e" stroke-width="0.9"/>
<circle cx="584.31" cy="197.96" r="1.45" fill="#93d35f" stroke="#4e9a2e" stroke-width="0.9"/>
<circle cx="589.3" cy="195.95" r="1.45" fill="#93d35f" stroke="#4e9a2e" stroke-width="0.9"/>
<circle cx="594.29" cy="199.5" r="1.45" fill="#93d35f" stroke="#4e9a2e" stroke-width="0.9"/>
<circle cx="599.27" cy="202.58" r="1.45" fill="#93d35f" stroke="#4e9a2e" stroke-width="0.9"/>
<circle cx="604.26" cy="204.35" r="1.45" fill="#93d35f" stroke="#4e9a2e" stroke-width="0.9"/>
<circle cx="609.24" cy="201.16" r="1.45" fill="#93d35f" stroke="#4e9a2e" stroke-width="0.9"/>
<circle cx="614.23" cy="201.87" r="1.45" fill="#93d35f" stroke="#4e9a2e" stroke-width="0.9"/>
<circle cx="619.21" cy="202.46" r="1.45" fill="#93d35f" stroke="#4e9a2e" stroke-width="0.9"/>
<circle cx="624.2" cy="202.93" r="1.45" fill="#93d35f" stroke="#4e9a2e" stroke-width="0.9"/>
<circle cx="629.19" cy="206.48" r="1.45" fill="#93d35f" stroke="#4e9a2e" stroke-width="0.9"/>
<circle cx="634.17" cy="223.27" r="1.45" fill="#93d35f" stroke="#4e9a2e" stroke-width="0.9"/>
<circle cx="639.16" cy="231.31" r="1.45" fill="#93d35f" stroke="#4e9a2e" stroke-width="0.9"/>
<circle cx="644.14" cy="236.75" r="1.45" fill="#93d35f" stroke="#4e9a2e" stroke-width="0.9"/>
<circle cx="649.13" cy="237.58" r="1.45" fill="#93d35f" stroke="#4e9a2e" stroke-width="0.9"/>
<circle cx="654.11" cy="237.93" r="1.45" fill="#93d35f" stroke="#4e9a2e" stroke-width="0.9"/>
<circle cx="659.1" cy="237.93" r="1.45" fill="#93d35f" stroke="#4e9a2e" stroke-width="0.9"/>
<path d="M484.6 191.93V210.85M483.8 191.93h1.6M483.8 210.85h1.6M489.59 191.82V210.97M488.79 191.82h1.6M488.79 210.97h1.6M494.57 191.58V210.74M493.77 191.58h1.6M493.77 210.74h1.6M499.56 192.29V210.03M498.76 192.29h1.6M498.76 210.03h1.6M504.54 188.15V205.89M503.74 188.15h1.6M503.74 205.89h1.6M509.53 185.9V205.06M508.73 185.9h1.6M508.73 205.06h1.6M514.51 184.72V204.82M513.71 184.72h1.6M513.71 204.82h1.6M519.5 187.44V206.6M518.7 187.44h1.6M518.7 206.6h1.6M524.49 185.78V204.47M523.69 185.78h1.6M523.69 204.47h1.6M529.47 188.15V205.89M528.67 188.15h1.6M528.67 205.89h1.6M534.46 184.25V204.35M533.66 184.25h1.6M533.66 204.35h1.6M539.44 186.97V204.7M538.64 186.97h1.6M538.64 204.7h1.6M544.43 187.44V205.18M543.63 187.44h1.6M543.63 205.18h1.6M549.41 186.97V204.7M548.61 186.97h1.6M548.61 204.7h1.6M554.4 187.79V205.53M553.6 187.79h1.6M553.6 205.53h1.6M559.39 191.93V206.6M558.59 191.93h1.6M558.59 206.6h1.6M564.37 188.98V203.64M563.57 188.98h1.6M563.57 203.64h1.6M569.36 189.69V204.35M568.56 189.69h1.6M568.56 204.35h1.6M574.34 191.93V204.94M573.54 191.93h1.6M573.54 204.94h1.6M579.33 193V207.66M578.53 193h1.6M578.53 207.66h1.6M584.31 190.63V205.3M583.51 190.63h1.6M583.51 205.3h1.6M589.3 189.33V202.58M588.5 189.33h1.6M588.5 202.58h1.6M594.29 193.59V205.41M593.49 193.59h1.6M593.49 205.41h1.6M599.27 195.95V209.2M598.47 195.95h1.6M598.47 209.2h1.6M604.26 197.02V211.68M603.46 197.02h1.6M603.46 211.68h1.6M609.24 195.24V207.07M608.44 195.24h1.6M608.44 207.07h1.6M614.23 195.24V208.49M613.43 195.24h1.6M613.43 208.49h1.6M619.21 195.84V209.08M618.41 195.84h1.6M618.41 209.08h1.6M624.2 197.02V208.84M623.4 197.02h1.6M623.4 208.84h1.6M629.19 199.15V213.81M628.39 199.15h1.6M628.39 213.81h1.6M634.17 218.07V228.47M633.37 218.07h1.6M633.37 228.47h1.6M639.16 226.11V236.51M638.36 226.11h1.6M638.36 236.51h1.6M644.14 232.26V241.24M643.34 232.26h1.6M643.34 241.24h1.6M649.13 233.08V242.07M648.33 233.08h1.6M648.33 242.07h1.6M654.11 234.27V241.6M653.31 234.27h1.6M653.31 241.6h1.6M659.1 235.57V240.3M658.3 235.57h1.6M658.3 240.3h1.6M484.6 168.87V190.16M483.8 168.87h1.6M483.8 190.16h1.6M489.59 168.87V191.58M488.79 168.87h1.6M488.79 191.58h1.6M494.57 165.56V191.34M493.77 165.56h1.6M493.77 191.34h1.6M499.56 163.32V189.33M498.76 163.32h1.6M498.76 189.33h1.6M504.54 158.59V185.78M503.74 158.59h1.6M503.74 185.78h1.6M509.53 161.43V187.2M508.73 161.43h1.6M508.73 187.2h1.6M514.51 160.24V184.84M513.71 160.24h1.6M513.71 184.84h1.6M519.5 159.65V184.72M518.7 159.65h1.6M518.7 184.72h1.6M524.49 157.76V183.77M523.69 157.76h1.6M523.69 183.77h1.6M529.47 160.72V186.49M528.67 160.72h1.6M528.67 186.49h1.6M534.46 159.77V184.6M533.66 159.77h1.6M533.66 184.6h1.6M539.44 160.72V186.49M538.64 160.72h1.6M538.64 186.49h1.6M544.43 159.3V185.07M543.63 159.3h1.6M543.63 185.07h1.6M549.41 156.1V182.59M548.61 156.1h1.6M548.61 182.59h1.6M554.4 157.76V183.54M553.6 157.76h1.6M553.6 183.54h1.6M559.39 155.99V181.29M558.59 155.99h1.6M558.59 181.29h1.6M564.37 158.35V182.47M563.57 158.35h1.6M563.57 182.47h1.6M569.36 158.47V183.06M568.56 158.47h1.6M568.56 183.06h1.6M574.34 154.57V182.24M573.54 154.57h1.6M573.54 182.24h1.6M579.33 156.81V184.48M578.53 156.81h1.6M578.53 184.48h1.6M584.31 153.38V181.53M583.51 153.38h1.6M583.51 181.53h1.6M589.3 152.32V177.39M588.5 152.32h1.6M588.5 177.39h1.6M594.29 152.67V179.87M593.49 152.67h1.6M593.49 179.87h1.6M599.27 153.15V179.64M598.47 153.15h1.6M598.47 179.64h1.6M604.26 151.61V179.75M603.46 151.61h1.6M603.46 179.75h1.6M609.24 151.61V179.75M608.44 151.61h1.6M608.44 179.75h1.6M614.23 149.72V180.7M613.43 149.72h1.6M613.43 180.7h1.6M619.21 148.89V180.82M618.41 148.89h1.6M618.41 180.82h1.6M624.2 154.09V184.6M623.4 154.09h1.6M623.4 184.6h1.6M629.19 156.34V186.85M628.39 156.34h1.6M628.39 186.85h1.6M634.17 158.59V187.44M633.37 158.59h1.6M633.37 187.44h1.6M639.16 158.23V189.92M638.36 158.23h1.6M638.36 189.92h1.6M644.14 162.25V194.18M643.34 162.25h1.6M643.34 194.18h1.6M649.13 168.87V197.49M648.33 168.87h1.6M648.33 197.49h1.6M654.11 174.08V202.69M653.31 174.08h1.6M653.31 202.69h1.6" stroke="#3c3c3c" stroke-width="0.8" fill="none" opacity="0.88"/>
<polyline points="484.6,179.52 489.59,180.23 494.57,178.45 499.56,176.32 504.54,172.19 509.53,174.31 514.51,172.54 519.5,172.19 524.49,170.77 529.47,173.6 534.46,172.19 539.44,173.6 544.43,172.19 549.41,169.35 554.4,170.65 559.39,168.64 564.37,170.41 569.36,170.77 574.34,168.4 579.33,170.65 584.31,167.46 589.3,164.85 594.29,166.27 599.27,166.39 604.26,165.68 609.24,165.68 614.23,165.21 619.21,164.85 624.2,169.35 629.19,171.59 634.17,173.01 639.16,174.08 644.14,178.22 649.13,183.18 654.11,188.39 659.1,188.15" fill="none" stroke="#cf1f3c" stroke-width="0.95"/>
<circle cx="484.6" cy="179.52" r="1.1" fill="#a30f2a"/>
<circle cx="489.59" cy="180.23" r="1.1" fill="#a30f2a"/>
<circle cx="494.57" cy="178.45" r="1.1" fill="#a30f2a"/>
<circle cx="499.56" cy="176.32" r="1.1" fill="#a30f2a"/>
<circle cx="504.54" cy="172.19" r="1.1" fill="#a30f2a"/>
<circle cx="509.53" cy="174.31" r="1.1" fill="#a30f2a"/>
<circle cx="514.51" cy="172.54" r="1.1" fill="#a30f2a"/>
<circle cx="519.5" cy="172.19" r="1.1" fill="#a30f2a"/>
<circle cx="524.49" cy="170.77" r="1.1" fill="#a30f2a"/>
<circle cx="529.47" cy="173.6" r="1.1" fill="#a30f2a"/>
<circle cx="534.46" cy="172.19" r="1.1" fill="#a30f2a"/>
<circle cx="539.44" cy="173.6" r="1.1" fill="#a30f2a"/>
<circle cx="544.43" cy="172.19" r="1.1" fill="#a30f2a"/>
<circle cx="549.41" cy="169.35" r="1.1" fill="#a30f2a"/>
<circle cx="554.4" cy="170.65" r="1.1" fill="#a30f2a"/>
<circle cx="559.39" cy="168.64" r="1.1" fill="#a30f2a"/>
<circle cx="564.37" cy="170.41" r="1.1" fill="#a30f2a"/>
<circle cx="569.36" cy="170.77" r="1.1" fill="#a30f2a"/>
<circle cx="574.34" cy="168.4" r="1.1" fill="#a30f2a"/>
<circle cx="579.33" cy="170.65" r="1.1" fill="#a30f2a"/>
<circle cx="584.31" cy="167.46" r="1.1" fill="#a30f2a"/>
<circle cx="589.3" cy="164.85" r="1.1" fill="#a30f2a"/>
<circle cx="594.29" cy="166.27" r="1.1" fill="#a30f2a"/>
<circle cx="599.27" cy="166.39" r="1.1" fill="#a30f2a"/>
<circle cx="604.26" cy="165.68" r="1.1" fill="#a30f2a"/>
<circle cx="609.24" cy="165.68" r="1.1" fill="#a30f2a"/>
<circle cx="614.23" cy="165.21" r="1.1" fill="#a30f2a"/>
<circle cx="619.21" cy="164.85" r="1.1" fill="#a30f2a"/>
<circle cx="624.2" cy="169.35" r="1.1" fill="#a30f2a"/>
<circle cx="629.19" cy="171.59" r="1.1" fill="#a30f2a"/>
<circle cx="634.17" cy="173.01" r="1.1" fill="#a30f2a"/>
<circle cx="639.16" cy="174.08" r="1.1" fill="#a30f2a"/>
<circle cx="644.14" cy="178.22" r="1.1" fill="#a30f2a"/>
<circle cx="649.13" cy="183.18" r="1.1" fill="#a30f2a"/>
<circle cx="654.11" cy="188.39" r="1.1" fill="#a30f2a"/>
<circle cx="659.1" cy="188.15" r="1.1" fill="#a30f2a"/>
<path d="M484.6 149.6V244.2H659.1V149.6M484.6 244.2h-1.6M659.1 244.2h1.6M484.6 220.55h-1.6M659.1 220.55h1.6M484.6 196.9h-1.6M659.1 196.9h1.6M484.6 173.25h-1.6M659.1 173.25h1.6M484.6 149.6h-1.6M659.1 149.6h1.6M484.6 244.2v1.6M509.53 244.2v1.6M534.46 244.2v1.6M559.39 244.2v1.6M584.31 244.2v1.6M609.24 244.2v1.6M634.17 244.2v1.6M659.1 244.2v1.6" fill="none" stroke="#555" stroke-width="1"/>
<g font-family="'DejaVu Sans','Liberation Sans',sans-serif" font-weight="bold" font-size="6.0" fill="#222">
<text x="479.8" y="246.11" text-anchor="end" font-size="5.3">0.5</text>
<text x="664.2" y="246.11" font-size="5.3">0.5</text>
<text x="479.8" y="222.46" text-anchor="end" font-size="5.3">0.7</text>
<text x="664.2" y="222.46" font-size="5.3">0.7</text>
<text x="479.8" y="198.81" text-anchor="end" font-size="5.3">0.9</text>
<text x="664.2" y="198.81" font-size="5.3">0.9</text>
<text x="479.8" y="175.16" text-anchor="end" font-size="5.3">1.1</text>
<text x="664.2" y="175.16" font-size="5.3">1.1</text>
<text x="479.8" y="151.51" text-anchor="end" font-size="5.3">1.3</text>
<text x="664.2" y="151.51" font-size="5.3">1.3</text>
<text x="484" y="252.06" text-anchor="middle">-60</text>
<text x="508.93" y="252.06" text-anchor="middle">-50</text>
<text x="533.86" y="252.06" text-anchor="middle">-40</text>
<text x="558.79" y="252.06" text-anchor="middle">-30</text>
<text x="583.71" y="252.06" text-anchor="middle">-20</text>
<text x="608.64" y="252.06" text-anchor="middle">-10</text>
<text x="634.17" y="252.06" text-anchor="middle">0</text>
<text x="659.1" y="252.06" text-anchor="middle">10</text>
<text x="514.4" y="261.96" textLength="114.6" lengthAdjust="spacingAndGlyphs">Time after Cyt. <tspan font-style="italic" font-weight="normal" stroke="#222" stroke-width="0.22">c</tspan>-GFP release (min)</text>
<text transform="translate(466.56 234.1) rotate(-90)" textLength="75.3" lengthAdjust="spacingAndGlyphs">Punctate/diffuse index</text>
<text transform="translate(676.64 161) rotate(90)" textLength="73.1" lengthAdjust="spacingAndGlyphs">Total brightness index</text>
</g>
<path d="M494.5 224.3h7.6" stroke="#8fd455" stroke-width="0.8"/>
<circle cx="498.3" cy="224.3" r="1.2" fill="#93d35f" stroke="#4e9a2e" stroke-width="0.8"/>
<path d="M494.5 232.5h7.6" stroke="#cf1f3c" stroke-width="0.7"/>
<circle cx="498.3" cy="232.5" r="1.05" fill="#8f0d26"/>
<g font-family="'DejaVu Sans','Liberation Sans',sans-serif" font-weight="bold" font-size="6.4" fill="#1c1c1c">
<text x="503.8" y="226.6" textLength="38.2" lengthAdjust="spacingAndGlyphs">Cyt. <tspan font-style="italic" font-weight="normal" stroke="#222" stroke-width="0.22">c</tspan>-GFP</text>
<text x="503.8" y="234.8" textLength="19.7" lengthAdjust="spacingAndGlyphs">TMRE</text>
</g>
</g>
<g>
<polyline points="379.8,336.18 386.11,334.45 392.41,340.12 398.72,343.92 405.03,342.81 411.34,332.86 417.64,331.41 423.95,331.41 430.26,330.65 436.56,321.31 442.87,334.31 449.18,336.94 455.49,323.52 461.79,333.27 468.1,330.37 474.41,336.94 480.71,335.49 487.02,327.12 493.33,335.49 499.64,343.51 505.94,337.35 512.25,339.43 518.56,341.29 524.86,343.23 531.17,376.49 537.48,375.59 543.79,377.94 550.09,376.49" fill="none" stroke="#8fd455" stroke-width="1"/>
<circle cx="386.11" cy="334.45" r="1.45" fill="#93d35f" stroke="#4e9a2e" stroke-width="0.9"/>
<circle cx="392.41" cy="340.12" r="1.45" fill="#93d35f" stroke="#4e9a2e" stroke-width="0.9"/>
<circle cx="398.72" cy="343.92" r="1.45" fill="#93d35f" stroke="#4e9a2e" stroke-width="0.9"/>
<circle cx="405.03" cy="342.81" r="1.45" fill="#93d35f" stroke="#4e9a2e" stroke-width="0.9"/>
<circle cx="411.34" cy="332.86" r="1.45" fill="#93d35f" stroke="#4e9a2e" stroke-width="0.9"/>
<circle cx="417.64" cy="331.41" r="1.45" fill="#93d35f" stroke="#4e9a2e" stroke-width="0.9"/>
<circle cx="423.95" cy="331.41" r="1.45" fill="#93d35f" stroke="#4e9a2e" stroke-width="0.9"/>
<circle cx="430.26" cy="330.65" r="1.45" fill="#93d35f" stroke="#4e9a2e" stroke-width="0.9"/>
<circle cx="436.56" cy="321.31" r="1.45" fill="#93d35f" stroke="#4e9a2e" stroke-width="0.9"/>
<circle cx="442.87" cy="334.31" r="1.45" fill="#93d35f" stroke="#4e9a2e" stroke-width="0.9"/>
<circle cx="449.18" cy="336.94" r="1.45" fill="#93d35f" stroke="#4e9a2e" stroke-width="0.9"/>
<circle cx="455.49" cy="323.52" r="1.45" fill="#93d35f" stroke="#4e9a2e" stroke-width="0.9"/>
<circle cx="461.79" cy="333.27" r="1.45" fill="#93d35f" stroke="#4e9a2e" stroke-width="0.9"/>
<circle cx="468.1" cy="330.37" r="1.45" fill="#93d35f" stroke="#4e9a2e" stroke-width="0.9"/>
<circle cx="474.41" cy="336.94" r="1.45" fill="#93d35f" stroke="#4e9a2e" stroke-width="0.9"/>
<circle cx="480.71" cy="335.49" r="1.45" fill="#93d35f" stroke="#4e9a2e" stroke-width="0.9"/>
<circle cx="487.02" cy="327.12" r="1.45" fill="#93d35f" stroke="#4e9a2e" stroke-width="0.9"/>
<circle cx="493.33" cy="335.49" r="1.45" fill="#93d35f" stroke="#4e9a2e" stroke-width="0.9"/>
<circle cx="499.64" cy="343.51" r="1.45" fill="#93d35f" stroke="#4e9a2e" stroke-width="0.9"/>
<circle cx="505.94" cy="337.35" r="1.45" fill="#93d35f" stroke="#4e9a2e" stroke-width="0.9"/>
<circle cx="512.25" cy="339.43" r="1.45" fill="#93d35f" stroke="#4e9a2e" stroke-width="0.9"/>
<circle cx="518.56" cy="341.29" r="1.45" fill="#93d35f" stroke="#4e9a2e" stroke-width="0.9"/>
<circle cx="524.86" cy="343.23" r="1.45" fill="#93d35f" stroke="#4e9a2e" stroke-width="0.9"/>
<circle cx="531.17" cy="376.49" r="1.45" fill="#93d35f" stroke="#4e9a2e" stroke-width="0.9"/>
<circle cx="537.48" cy="375.59" r="1.45" fill="#93d35f" stroke="#4e9a2e" stroke-width="0.9"/>
<circle cx="543.79" cy="377.94" r="1.45" fill="#93d35f" stroke="#4e9a2e" stroke-width="0.9"/>
<circle cx="550.09" cy="376.49" r="1.45" fill="#93d35f" stroke="#4e9a2e" stroke-width="0.9"/>
<path d="M386.11 319.44V349.45M385.31 319.44h1.6M385.31 349.45h1.6M392.41 325.94V354.29M391.61 325.94h1.6M391.61 354.29h1.6M398.72 327.4V360.45M397.92 327.4h1.6M397.92 360.45h1.6M405.03 328.5V357.13M404.23 328.5h1.6M404.23 357.13h1.6M411.34 314.33V351.39M410.54 314.33h1.6M410.54 351.39h1.6M417.64 309.21V353.6M416.84 309.21h1.6M416.84 353.6h1.6M423.95 313.29V349.52M423.15 313.29h1.6M423.15 349.52h1.6M430.26 308.45V352.84M429.46 308.45h1.6M429.46 352.84h1.6M436.56 292.96V349.66M435.76 292.96h1.6M435.76 349.66h1.6M442.87 313.29V355.33M442.07 313.29h1.6M442.07 355.33h1.6M449.18 316.82V357.06M448.38 316.82h1.6M448.38 357.06h1.6M455.49 297.53V349.52M454.69 297.53h1.6M454.69 349.52h1.6M461.79 314.74V351.8M460.99 314.74h1.6M460.99 351.8h1.6M468.1 309.9V350.83M467.3 309.9h1.6M467.3 350.83h1.6M474.41 323.11V350.77M473.61 323.11h1.6M473.61 350.77h1.6M480.71 321.93V349.04M479.91 321.93h1.6M479.91 349.04h1.6M487.02 307V347.24M486.22 307h1.6M486.22 347.24h1.6M493.33 317.65V353.32M492.53 317.65h1.6M492.53 353.32h1.6M499.64 330.37V356.64M498.84 330.37h1.6M498.84 356.64h1.6M505.94 319.1V355.61M505.14 319.1h1.6M505.14 355.61h1.6M512.25 315.02V363.83M511.45 315.02h1.6M511.45 363.83h1.6M518.56 317.23V365.35M517.76 317.23h1.6M517.76 365.35h1.6M524.86 327.33V359.13M524.06 327.33h1.6M524.06 359.13h1.6M531.17 369.92V383.06M530.37 369.92h1.6M530.37 383.06h1.6M537.48 369.02V382.16M536.68 369.02h1.6M536.68 382.16h1.6M543.79 372.75V383.12M542.99 372.75h1.6M542.99 383.12h1.6M550.09 369.92V383.06M549.29 369.92h1.6M549.29 383.06h1.6M386.11 324.84V345.58M385.31 324.84h1.6M385.31 345.58h1.6M392.41 327.67V345.65M391.61 327.67h1.6M391.61 345.65h1.6M398.72 328.36V344.96M397.92 328.36h1.6M397.92 344.96h1.6M405.03 329.82V346.41M404.23 329.82h1.6M404.23 346.41h1.6M411.34 321.1V344.61M410.54 321.1h1.6M410.54 344.61h1.6M417.64 318.41V346.06M416.84 318.41h1.6M416.84 346.06h1.6M423.95 325.6V349.11M423.15 325.6h1.6M423.15 349.11h1.6M430.26 312.18V339.84M429.46 312.18h1.6M429.46 339.84h1.6M436.56 313.64V341.29M435.76 313.64h1.6M435.76 341.29h1.6M442.87 316.75V341.64M442.07 316.75h1.6M442.07 341.64h1.6M449.18 320.48V342.61M448.38 320.48h1.6M448.38 342.61h1.6M455.49 316.26V343.92M454.69 316.26h1.6M454.69 343.92h1.6M461.79 320.07V343.57M460.99 320.07h1.6M460.99 343.57h1.6M468.1 317.23V344.89M467.3 317.23h1.6M467.3 344.89h1.6M474.41 324.42V346.55M473.61 324.42h1.6M473.61 346.55h1.6M480.71 324.35V345.1M479.91 324.35h1.6M479.91 345.1h1.6M487.02 318.34V343.23M486.22 318.34h1.6M486.22 343.23h1.6M493.33 317.09V339.22M492.53 317.09h1.6M492.53 339.22h1.6M499.64 317.44V340.95M498.84 317.44h1.6M498.84 340.95h1.6M505.94 319.24V339.98M505.14 319.24h1.6M505.14 339.98h1.6M512.25 316.06V342.33M511.45 316.06h1.6M511.45 342.33h1.6M518.56 317.65V343.92M517.76 317.65h1.6M517.76 343.92h1.6M524.86 326.29V347.03M524.06 326.29h1.6M524.06 347.03h1.6M531.17 331.82V354.36M530.37 331.82h1.6M530.37 354.36h1.6M537.48 323.39V352.56M536.68 323.39h1.6M536.68 352.56h1.6M543.79 336.25V355.74M542.99 336.25h1.6M542.99 355.74h1.6M550.09 332.93V355.47M549.29 332.93h1.6M549.29 355.47h1.6" stroke="#3c3c3c" stroke-width="0.8" fill="none" opacity="0.88"/>
<polyline points="379.8,336.18 386.11,335.21 392.41,336.66 398.72,336.66 405.03,338.11 411.34,332.86 417.64,332.24 423.95,337.35 430.26,326.01 436.56,327.46 442.87,329.19 449.18,331.54 455.49,330.09 461.79,331.82 468.1,331.06 474.41,335.49 480.71,334.72 487.02,330.78 493.33,328.16 499.64,329.19 505.94,329.61 512.25,329.19 518.56,330.78 524.86,336.66 531.17,343.09 537.48,337.97 543.79,345.99 550.09,344.2" fill="none" stroke="#cf1f3c" stroke-width="0.95"/>
<circle cx="379.8" cy="336.18" r="1.1" fill="#a30f2a"/>
<circle cx="386.11" cy="335.21" r="1.1" fill="#a30f2a"/>
<circle cx="392.41" cy="336.66" r="1.1" fill="#a30f2a"/>
<circle cx="398.72" cy="336.66" r="1.1" fill="#a30f2a"/>
<circle cx="405.03" cy="338.11" r="1.1" fill="#a30f2a"/>
<circle cx="411.34" cy="332.86" r="1.1" fill="#a30f2a"/>
<circle cx="417.64" cy="332.24" r="1.1" fill="#a30f2a"/>
<circle cx="423.95" cy="337.35" r="1.1" fill="#a30f2a"/>
<circle cx="430.26" cy="326.01" r="1.1" fill="#a30f2a"/>
<circle cx="436.56" cy="327.46" r="1.1" fill="#a30f2a"/>
<circle cx="442.87" cy="329.19" r="1.1" fill="#a30f2a"/>
<circle cx="449.18" cy="331.54" r="1.1" fill="#a30f2a"/>
<circle cx="455.49" cy="330.09" r="1.1" fill="#a30f2a"/>
<circle cx="461.79" cy="331.82" r="1.1" fill="#a30f2a"/>
<circle cx="468.1" cy="331.06" r="1.1" fill="#a30f2a"/>
<circle cx="474.41" cy="335.49" r="1.1" fill="#a30f2a"/>
<circle cx="480.71" cy="334.72" r="1.1" fill="#a30f2a"/>
<circle cx="487.02" cy="330.78" r="1.1" fill="#a30f2a"/>
<circle cx="493.33" cy="328.16" r="1.1" fill="#a30f2a"/>
<circle cx="499.64" cy="329.19" r="1.1" fill="#a30f2a"/>
<circle cx="505.94" cy="329.61" r="1.1" fill="#a30f2a"/>
<circle cx="512.25" cy="329.19" r="1.1" fill="#a30f2a"/>
<circle cx="518.56" cy="330.78" r="1.1" fill="#a30f2a"/>
<circle cx="524.86" cy="336.66" r="1.1" fill="#a30f2a"/>
<circle cx="531.17" cy="343.09" r="1.1" fill="#a30f2a"/>
<circle cx="537.48" cy="337.97" r="1.1" fill="#a30f2a"/>
<circle cx="543.79" cy="345.99" r="1.1" fill="#a30f2a"/>
<circle cx="550.09" cy="344.2" r="1.1" fill="#a30f2a"/>
<path d="M379.8 287.5V384.3H556.4V287.5M379.8 384.3h-1.6M556.4 384.3h1.6M379.8 370.47h-1.6M556.4 370.47h1.6M379.8 356.64h-1.6M556.4 356.64h1.6M379.8 342.81h-1.6M556.4 342.81h1.6M379.8 328.99h-1.6M556.4 328.99h1.6M379.8 315.16h-1.6M556.4 315.16h1.6M379.8 301.33h-1.6M556.4 301.33h1.6M379.8 287.5h-1.6M556.4 287.5h1.6M379.8 384.3v1.6M405.03 384.3v1.6M430.26 384.3v1.6M455.49 384.3v1.6M480.71 384.3v1.6M505.94 384.3v1.6M531.17 384.3v1.6M556.4 384.3v1.6" fill="none" stroke="#555" stroke-width="1"/>
<g font-family="'DejaVu Sans','Liberation Sans',sans-serif" font-weight="bold" font-size="5.3" fill="#222">
<text x="374.3" y="385.99" text-anchor="end" font-size="4.7">0.3</text>
<text x="561.4" y="385.99" font-size="4.7">0.3</text>
<text x="374.3" y="372.16" text-anchor="end" font-size="4.7">0.5</text>
<text x="561.4" y="372.16" font-size="4.7">0.5</text>
<text x="374.3" y="358.33" text-anchor="end" font-size="4.7">0.7</text>
<text x="561.4" y="358.33" font-size="4.7">0.7</text>
<text x="374.3" y="344.51" text-anchor="end" font-size="4.7">0.9</text>
<text x="561.4" y="344.51" font-size="4.7">0.9</text>
<text x="374.3" y="330.68" text-anchor="end" font-size="4.7">1.1</text>
<text x="561.4" y="330.68" font-size="4.7">1.1</text>
<text x="374.3" y="316.85" text-anchor="end" font-size="4.7">1.3</text>
<text x="561.4" y="316.85" font-size="4.7">1.3</text>
<text x="374.3" y="303.02" text-anchor="end" font-size="4.7">1.5</text>
<text x="561.4" y="303.02" font-size="4.7">1.5</text>
<text x="374.3" y="289.19" text-anchor="end" font-size="4.7">1.7</text>
<text x="561.4" y="289.19" font-size="4.7">1.7</text>
<text x="379.2" y="392.91" text-anchor="middle">-120</text>
<text x="404.43" y="392.91" text-anchor="middle">-100</text>
<text x="429.66" y="392.91" text-anchor="middle">-80</text>
<text x="454.89" y="392.91" text-anchor="middle">-60</text>
<text x="480.11" y="392.91" text-anchor="middle">-40</text>
<text x="505.34" y="392.91" text-anchor="middle">-20</text>
<text x="531.17" y="392.91" text-anchor="middle">0</text>
<text x="556.4" y="392.91" text-anchor="middle">20</text>
<text x="414.7" y="401.91" textLength="106.3" lengthAdjust="spacingAndGlyphs">Time after Cyt. <tspan font-style="italic" font-weight="normal" stroke="#222" stroke-width="0.22">c</tspan>-GFP release (min)</text>
<text transform="translate(362.11 370.8) rotate(-90)" textLength="69.8" lengthAdjust="spacingAndGlyphs">Punctate/diffuse index</text>
<text transform="translate(575.19 301.7) rotate(90)" textLength="73.1" lengthAdjust="spacingAndGlyphs">Total brightness index</text>
</g>
<path d="M390 367.6h7.6" stroke="#8fd455" stroke-width="0.8"/>
<circle cx="393.8" cy="367.6" r="1.2" fill="#93d35f" stroke="#4e9a2e" stroke-width="0.8"/>
<path d="M390 375.5h7.6" stroke="#cf1f3c" stroke-width="0.7"/>
<circle cx="393.8" cy="375.5" r="1.05" fill="#8f0d26"/>
<g font-family="'DejaVu Sans','Liberation Sans',sans-serif" font-weight="bold" font-size="6.4" fill="#1c1c1c">
<text x="399.1" y="369.9" textLength="38.2" lengthAdjust="spacingAndGlyphs">Cyt. <tspan font-style="italic" font-weight="normal" stroke="#222" stroke-width="0.22">c</tspan>-GFP</text>
<text x="399.1" y="377.8" textLength="19.7" lengthAdjust="spacingAndGlyphs">TMRE</text>
</g>
</g>
<g>
<polyline points="379.8,488.05 384.78,491.14 389.75,489.59 394.73,490.27 399.71,490.65 404.69,487.76 409.66,489.98 414.64,486.99 419.62,488.05 424.59,488.05 429.57,484.49 434.55,486.32 439.53,488.44 444.5,489.59 449.48,490.94 454.46,489.21 459.43,486.32 464.41,486.61 469.39,486.03 474.37,487.47 479.34,487.47 484.32,487.47 489.3,484.77 494.27,484.1 499.25,486.99 504.23,485.55 509.21,485.16 514.18,486.7 519.16,487.28 524.14,489.98 529.11,500.87 534.09,505.21 539.07,506.46 544.05,507.43 549.02,505.6 554,507.43" fill="none" stroke="#8fd455" stroke-width="1"/>
<circle cx="379.8" cy="488.05" r="1.45" fill="#93d35f" stroke="#4e9a2e" stroke-width="0.9"/>
<circle cx="384.78" cy="491.14" r="1.45" fill="#93d35f" stroke="#4e9a2e" stroke-width="0.9"/>
<circle cx="389.75" cy="489.59" r="1.45" fill="#93d35f" stroke="#4e9a2e" stroke-width="0.9"/>
<circle cx="394.73" cy="490.27" r="1.45" fill="#93d35f" stroke="#4e9a2e" stroke-width="0.9"/>
<circle cx="399.71" cy="490.65" r="1.45" fill="#93d35f" stroke="#4e9a2e" stroke-width="0.9"/>
<circle cx="404.69" cy="487.76" r="1.45" fill="#93d35f" stroke="#4e9a2e" stroke-width="0.9"/>
<circle cx="409.66" cy="489.98" r="1.45" fill="#93d35f" stroke="#4e9a2e" stroke-width="0.9"/>
<circle cx="414.64" cy="486.99" r="1.45" fill="#93d35f" stroke="#4e9a2e" stroke-width="0.9"/>
<circle cx="419.62" cy="488.05" r="1.45" fill="#93d35f" stroke="#4e9a2e" stroke-width="0.9"/>
<circle cx="424.59" cy="488.05" r="1.45" fill="#93d35f" stroke="#4e9a2e" stroke-width="0.9"/>
<circle cx="429.57" cy="484.49" r="1.45" fill="#93d35f" stroke="#4e9a2e" stroke-width="0.9"/>
<circle cx="434.55" cy="486.32" r="1.45" fill="#93d35f" stroke="#4e9a2e" stroke-width="0.9"/>
<circle cx="439.53" cy="488.44" r="1.45" fill="#93d35f" stroke="#4e9a2e" stroke-width="0.9"/>
<circle cx="444.5" cy="489.59" r="1.45" fill="#93d35f" stroke="#4e9a2e" stroke-width="0.9"/>
<circle cx="449.48" cy="490.94" r="1.45" fill="#93d35f" stroke="#4e9a2e" stroke-width="0.9"/>
<circle cx="454.46" cy="489.21" r="1.45" fill="#93d35f" stroke="#4e9a2e" stroke-width="0.9"/>
<circle cx="459.43" cy="486.32" r="1.45" fill="#93d35f" stroke="#4e9a2e" stroke-width="0.9"/>
<circle cx="464.41" cy="486.61" r="1.45" fill="#93d35f" stroke="#4e9a2e" stroke-width="0.9"/>
<circle cx="469.39" cy="486.03" r="1.45" fill="#93d35f" stroke="#4e9a2e" stroke-width="0.9"/>
<circle cx="474.37" cy="487.47" r="1.45" fill="#93d35f" stroke="#4e9a2e" stroke-width="0.9"/>
<circle cx="479.34" cy="487.47" r="1.45" fill="#93d35f" stroke="#4e9a2e" stroke-width="0.9"/>
<circle cx="484.32" cy="487.47" r="1.45" fill="#93d35f" stroke="#4e9a2e" stroke-width="0.9"/>
<circle cx="489.3" cy="484.77" r="1.45" fill="#93d35f" stroke="#4e9a2e" stroke-width="0.9"/>
<circle cx="494.27" cy="484.1" r="1.45" fill="#93d35f" stroke="#4e9a2e" stroke-width="0.9"/>
<circle cx="499.25" cy="486.99" r="1.45" fill="#93d35f" stroke="#4e9a2e" stroke-width="0.9"/>
<circle cx="504.23" cy="485.55" r="1.45" fill="#93d35f" stroke="#4e9a2e" stroke-width="0.9"/>
<circle cx="509.21" cy="485.16" r="1.45" fill="#93d35f" stroke="#4e9a2e" stroke-width="0.9"/>
<circle cx="514.18" cy="486.7" r="1.45" fill="#93d35f" stroke="#4e9a2e" stroke-width="0.9"/>
<circle cx="519.16" cy="487.28" r="1.45" fill="#93d35f" stroke="#4e9a2e" stroke-width="0.9"/>
<circle cx="524.14" cy="489.98" r="1.45" fill="#93d35f" stroke="#4e9a2e" stroke-width="0.9"/>
<circle cx="529.11" cy="500.87" r="1.45" fill="#93d35f" stroke="#4e9a2e" stroke-width="0.9"/>
<circle cx="534.09" cy="505.21" r="1.45" fill="#93d35f" stroke="#4e9a2e" stroke-width="0.9"/>
<circle cx="539.07" cy="506.46" r="1.45" fill="#93d35f" stroke="#4e9a2e" stroke-width="0.9"/>
<circle cx="544.05" cy="507.43" r="1.45" fill="#93d35f" stroke="#4e9a2e" stroke-width="0.9"/>
<circle cx="549.02" cy="505.6" r="1.45" fill="#93d35f" stroke="#4e9a2e" stroke-width="0.9"/>
<circle cx="554" cy="507.43" r="1.45" fill="#93d35f" stroke="#4e9a2e" stroke-width="0.9"/>
<path d="M379.8 481.3V494.8M379 481.3h1.6M379 494.8h1.6M384.78 484.39V497.88M383.98 484.39h1.6M383.98 497.88h1.6M389.75 482.85V496.34M388.95 482.85h1.6M388.95 496.34h1.6M394.73 483.52V497.02M393.93 483.52h1.6M393.93 497.02h1.6M399.71 483.91V497.4M398.91 483.91h1.6M398.91 497.4h1.6M404.69 481.01V494.51M403.89 481.01h1.6M403.89 494.51h1.6M409.66 483.23V496.73M408.86 483.23h1.6M408.86 496.73h1.6M414.64 480.24V493.74M413.84 480.24h1.6M413.84 493.74h1.6M419.62 481.3V494.8M418.82 481.3h1.6M418.82 494.8h1.6M424.59 481.3V494.8M423.79 481.3h1.6M423.79 494.8h1.6M429.57 476.87V492.1M428.77 476.87h1.6M428.77 492.1h1.6M434.55 479.57V493.06M433.75 479.57h1.6M433.75 493.06h1.6M439.53 481.69V495.19M438.73 481.69h1.6M438.73 495.19h1.6M444.5 482.85V496.34M443.7 482.85h1.6M443.7 496.34h1.6M449.48 483.62V498.27M448.68 483.62h1.6M448.68 498.27h1.6M454.46 482.46V495.96M453.66 482.46h1.6M453.66 495.96h1.6M459.43 479.57V493.06M458.63 479.57h1.6M458.63 493.06h1.6M464.41 479.86V493.35M463.61 479.86h1.6M463.61 493.35h1.6M469.39 479.28V492.78M468.59 479.28h1.6M468.59 492.78h1.6M474.37 480.73V494.22M473.57 480.73h1.6M473.57 494.22h1.6M479.34 480.73V494.22M478.54 480.73h1.6M478.54 494.22h1.6M484.32 480.73V494.22M483.52 480.73h1.6M483.52 494.22h1.6M489.3 478.03V491.52M488.5 478.03h1.6M488.5 491.52h1.6M494.27 477.35V490.85M493.47 477.35h1.6M493.47 490.85h1.6M499.25 480.24V493.74M498.45 480.24h1.6M498.45 493.74h1.6M504.23 478.8V492.29M503.43 478.8h1.6M503.43 492.29h1.6M509.21 478.41V491.91M508.41 478.41h1.6M508.41 491.91h1.6M514.18 479.95V493.45M513.38 479.95h1.6M513.38 493.45h1.6M519.16 480.53V494.03M518.36 480.53h1.6M518.36 494.03h1.6M524.14 483.23V496.73M523.34 483.23h1.6M523.34 496.73h1.6M529.11 495.09V506.66M528.31 495.09h1.6M528.31 506.66h1.6M534.09 499.43V511M533.29 499.43h1.6M533.29 511h1.6M539.07 500.68V512.25M538.27 500.68h1.6M538.27 512.25h1.6M544.05 501.16V513.69M543.25 501.16h1.6M543.25 513.69h1.6M549.02 498.85V512.34M548.22 498.85h1.6M548.22 512.34h1.6M379.8 454.31V475.52M379 454.31h1.6M379 475.52h1.6M384.78 458.17V479.38M383.98 458.17h1.6M383.98 479.38h1.6M389.75 453.25V476.58M388.95 453.25h1.6M388.95 476.58h1.6M394.73 455.18V478.51M393.93 455.18h1.6M393.93 478.51h1.6M399.71 454.41V478.7M398.91 454.41h1.6M398.91 478.7h1.6M404.69 453.73V476.48M403.89 453.73h1.6M403.89 476.48h1.6M409.66 456.63V477.83M408.86 456.63h1.6M408.86 477.83h1.6M414.64 452.67V473.69M413.84 452.67h1.6M413.84 473.69h1.6M419.62 450.36V473.11M418.82 450.36h1.6M418.82 473.11h1.6M424.59 455.85V476.87M423.79 455.85h1.6M423.79 476.87h1.6M429.57 445.64V469.54M428.77 445.64h1.6M428.77 469.54h1.6M434.55 447.85V475.04M433.75 447.85h1.6M433.75 475.04h1.6M439.53 449.78V476.58M438.73 449.78h1.6M438.73 476.58h1.6M444.5 455.08V479.38M443.7 455.08h1.6M443.7 479.38h1.6M449.48 460.96V483.52M448.68 460.96h1.6M448.68 483.52h1.6M454.46 456.34V476.39M453.66 456.34h1.6M453.66 476.39h1.6M459.43 444.86V466.84M458.63 444.86h1.6M458.63 466.84h1.6M464.41 444.86V467.42M463.61 444.86h1.6M463.61 467.42h1.6M469.39 446.41V470.7M468.59 446.41h1.6M468.59 470.7h1.6M474.37 448.91V471.09M473.57 448.91h1.6M473.57 471.09h1.6M479.34 441.97V467.42M478.54 441.97h1.6M478.54 467.42h1.6M484.32 444.19V466.94M483.52 444.19h1.6M483.52 466.94h1.6M489.3 436.67V460.58M488.5 436.67h1.6M488.5 460.58h1.6M494.27 439.85V462.6M493.47 439.85h1.6M493.47 462.6h1.6M499.25 445.93V468.1M498.45 445.93h1.6M498.45 468.1h1.6M504.23 444.19V469.06M503.43 444.19h1.6M503.43 469.06h1.6M509.21 444.19V469.06M508.41 444.19h1.6M508.41 469.06h1.6M514.18 443.9V469.35M513.38 443.9h1.6M513.38 469.35h1.6M519.16 443.03V470.22M518.36 443.03h1.6M518.36 470.22h1.6M524.14 445.73V471.95M523.34 445.73h1.6M523.34 471.95h1.6M529.11 449.3V475.52M528.31 449.3h1.6M528.31 475.52h1.6M534.09 455.18V478.51M533.29 455.18h1.6M533.29 478.51h1.6M539.07 453.25V477.54M538.27 453.25h1.6M538.27 477.54h1.6M544.05 455.85V483.04M543.25 455.85h1.6M543.25 483.04h1.6M549.02 458.46V486.22M548.22 458.46h1.6M548.22 486.22h1.6" stroke="#3c3c3c" stroke-width="0.8" fill="none" opacity="0.88"/>
<polyline points="379.8,464.92 384.78,468.77 389.75,464.92 394.73,466.84 399.71,466.55 404.69,465.11 409.66,467.23 414.64,463.18 419.62,461.73 424.59,466.36 429.57,457.59 434.55,461.45 439.53,463.18 444.5,467.23 449.48,472.24 454.46,466.36 459.43,455.85 464.41,456.14 469.39,458.55 474.37,460 479.34,454.7 484.32,455.57 489.3,448.62 494.27,451.23 499.25,457.01 504.23,456.63 509.21,456.63 514.18,456.63 519.16,456.63 524.14,458.84 529.11,462.41 534.09,466.84 539.07,465.4 544.05,469.45 549.02,472.34 554,481.01" fill="none" stroke="#cf1f3c" stroke-width="0.95"/>
<circle cx="379.8" cy="464.92" r="1.1" fill="#a30f2a"/>
<circle cx="384.78" cy="468.77" r="1.1" fill="#a30f2a"/>
<circle cx="389.75" cy="464.92" r="1.1" fill="#a30f2a"/>
<circle cx="394.73" cy="466.84" r="1.1" fill="#a30f2a"/>
<circle cx="399.71" cy="466.55" r="1.1" fill="#a30f2a"/>
<circle cx="404.69" cy="465.11" r="1.1" fill="#a30f2a"/>
<circle cx="409.66" cy="467.23" r="1.1" fill="#a30f2a"/>
<circle cx="414.64" cy="463.18" r="1.1" fill="#a30f2a"/>
<circle cx="419.62" cy="461.73" r="1.1" fill="#a30f2a"/>
<circle cx="424.59" cy="466.36" r="1.1" fill="#a30f2a"/>
<circle cx="429.57" cy="457.59" r="1.1" fill="#a30f2a"/>
<circle cx="434.55" cy="461.45" r="1.1" fill="#a30f2a"/>
<circle cx="439.53" cy="463.18" r="1.1" fill="#a30f2a"/>
<circle cx="444.5" cy="467.23" r="1.1" fill="#a30f2a"/>
<circle cx="449.48" cy="472.24" r="1.1" fill="#a30f2a"/>
<circle cx="454.46" cy="466.36" r="1.1" fill="#a30f2a"/>
<circle cx="459.43" cy="455.85" r="1.1" fill="#a30f2a"/>
<circle cx="464.41" cy="456.14" r="1.1" fill="#a30f2a"/>
<circle cx="469.39" cy="458.55" r="1.1" fill="#a30f2a"/>
<circle cx="474.37" cy="460" r="1.1" fill="#a30f2a"/>
<circle cx="479.34" cy="454.7" r="1.1" fill="#a30f2a"/>
<circle cx="484.32" cy="455.57" r="1.1" fill="#a30f2a"/>
<circle cx="489.3" cy="448.62" r="1.1" fill="#a30f2a"/>
<circle cx="494.27" cy="451.23" r="1.1" fill="#a30f2a"/>
<circle cx="499.25" cy="457.01" r="1.1" fill="#a30f2a"/>
<circle cx="504.23" cy="456.63" r="1.1" fill="#a30f2a"/>
<circle cx="509.21" cy="456.63" r="1.1" fill="#a30f2a"/>
<circle cx="514.18" cy="456.63" r="1.1" fill="#a30f2a"/>
<circle cx="519.16" cy="456.63" r="1.1" fill="#a30f2a"/>
<circle cx="524.14" cy="458.84" r="1.1" fill="#a30f2a"/>
<circle cx="529.11" cy="462.41" r="1.1" fill="#a30f2a"/>
<circle cx="534.09" cy="466.84" r="1.1" fill="#a30f2a"/>
<circle cx="539.07" cy="465.4" r="1.1" fill="#a30f2a"/>
<circle cx="544.05" cy="469.45" r="1.1" fill="#a30f2a"/>
<circle cx="549.02" cy="472.34" r="1.1" fill="#a30f2a"/>
<circle cx="554" cy="481.01" r="1.1" fill="#a30f2a"/>
<path d="M379.8 422.5V518.9H554V422.5M379.8 518.9h-1.6M554 518.9h1.6M379.8 499.62h-1.6M554 499.62h1.6M379.8 480.34h-1.6M554 480.34h1.6M379.8 461.06h-1.6M554 461.06h1.6M379.8 441.78h-1.6M554 441.78h1.6M379.8 422.5h-1.6M554 422.5h1.6M379.8 518.9v1.6M404.69 518.9v1.6M429.57 518.9v1.6M454.46 518.9v1.6M479.34 518.9v1.6M504.23 518.9v1.6M529.11 518.9v1.6M554 518.9v1.6" fill="none" stroke="#555" stroke-width="1"/>
<g font-family="'DejaVu Sans','Liberation Sans',sans-serif" font-weight="bold" font-size="5.9" fill="#222">
<text x="374.4" y="520.95" text-anchor="end" font-size="5.7">0.6</text>
<text x="559.4" y="520.95" font-size="5.7">0.6</text>
<text x="374.4" y="501.67" text-anchor="end" font-size="5.7">0.8</text>
<text x="559.4" y="501.67" font-size="5.7">0.8</text>
<text x="374.4" y="482.39" text-anchor="end" font-size="5.7">1.0</text>
<text x="559.4" y="482.39" font-size="5.7">1.0</text>
<text x="374.4" y="463.11" text-anchor="end" font-size="5.7">1.2</text>
<text x="559.4" y="463.11" font-size="5.7">1.2</text>
<text x="374.4" y="443.83" text-anchor="end" font-size="5.7">1.4</text>
<text x="559.4" y="443.83" font-size="5.7">1.4</text>
<text x="374.4" y="424.55" text-anchor="end" font-size="5.7">1.6</text>
<text x="559.4" y="424.55" font-size="5.7">1.6</text>
<text x="379.2" y="528.22" text-anchor="middle">-60</text>
<text x="404.09" y="528.22" text-anchor="middle">-50</text>
<text x="428.97" y="528.22" text-anchor="middle">-40</text>
<text x="453.86" y="528.22" text-anchor="middle">-30</text>
<text x="478.74" y="528.22" text-anchor="middle">-20</text>
<text x="503.63" y="528.22" text-anchor="middle">-10</text>
<text x="529.11" y="528.22" text-anchor="middle">0</text>
<text x="554" y="528.22" text-anchor="middle">10</text>
<text x="406.9" y="537.32" textLength="118.9" lengthAdjust="spacingAndGlyphs">Time after Cyt. <tspan font-style="italic" font-weight="normal" stroke="#222" stroke-width="0.22">c</tspan>-GFP release (min)</text>
<text transform="translate(360.92 508.4) rotate(-90)" textLength="77.5" lengthAdjust="spacingAndGlyphs">Punctate/diffuse index</text>
<text transform="translate(574.58 437.1) rotate(90)" textLength="73.1" lengthAdjust="spacingAndGlyphs">Total brightness index</text>
</g>
<path d="M389.6 503.1h7.6" stroke="#8fd455" stroke-width="0.8"/>
<circle cx="393.4" cy="503.1" r="1.2" fill="#93d35f" stroke="#4e9a2e" stroke-width="0.8"/>
<path d="M389.6 511.1h7.6" stroke="#cf1f3c" stroke-width="0.7"/>
<circle cx="393.4" cy="511.1" r="1.05" fill="#8f0d26"/>
<g font-family="'DejaVu Sans','Liberation Sans',sans-serif" font-weight="bold" font-size="6.4" fill="#1c1c1c">
<text x="399.2" y="505.4" textLength="38.2" lengthAdjust="spacingAndGlyphs">Cyt. <tspan font-style="italic" font-weight="normal" stroke="#222" stroke-width="0.22">c</tspan>-GFP</text>
<text x="399.2" y="513.4" textLength="19.7" lengthAdjust="spacingAndGlyphs">TMRE</text>
</g>
</g>
<g font-family="'Liberation Sans',sans-serif" font-weight="bold" fill="#111">
<text x="4" y="11.4" font-size="13.5">a</text>
<text x="4" y="292.6" font-size="14.5">b</text>
<text x="226.6" y="11.4" font-size="13.8">c</text>
<text x="343" y="292" font-size="14.5">d</text>
<text x="225.7" y="27" font-size="12">i</text>
<text x="226" y="157.7" font-size="11.3">ii</text>
<text x="455.6" y="27" font-size="11.3">iii</text>
<text x="455" y="155.7" font-size="11.3">iv</text>
<text x="353.4" y="293.2" font-size="11">i</text>
<text x="353.8" y="429.4" font-size="10.5">ii</text>
</g>
</svg></body></html>
